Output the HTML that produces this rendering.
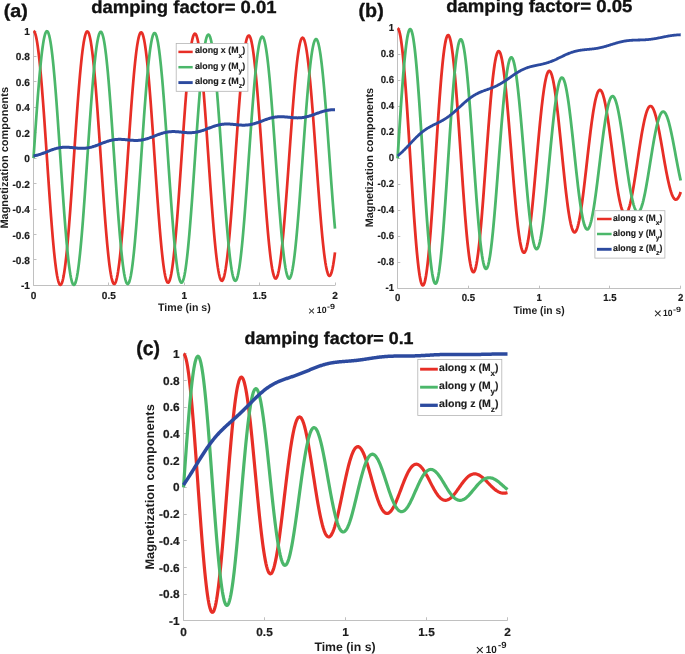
<!DOCTYPE html>
<html lang="en">
<head>
<meta charset="utf-8">
<title>Magnetization components vs time for different damping factors</title>
<style>
html,body{margin:0;padding:0;background:#fff;}
body{width:685px;height:654px;overflow:hidden;}
svg{display:block;font-family:'Liberation Sans', sans-serif;text-rendering:geometricPrecision;}
</style>
</head>
<body>
<svg width="685" height="654" viewBox="0 0 685 654">
<rect width="685" height="654" fill="#fff"/>
<g id="plot-a">
<path d="M33.5 31V285.5H335" fill="none" stroke="#c0c0c0" stroke-width="1"/>
<path d="M33.5 285.5v-3.02 M108.5 285.5v-3.02 M184.5 285.5v-3.02 M259.5 285.5v-3.02 M335.5 285.5v-3.02 M33.5 31.5h3.02 M33.5 56.5h3.02 M33.5 81.5h3.02 M33.5 107.5h3.02 M33.5 132.5h3.02 M33.5 158.5h3.02 M33.5 183.5h3.02 M33.5 209.5h3.02 M33.5 234.5h3.02 M33.5 259.5h3.02 M33.5 285.5h3.02" fill="none" stroke="#c0c0c0" stroke-width="1"/>
<path d="M33.5 31.02 L34.1 31.34 L34.71 32.29 L35.31 33.86 L35.92 36.05 L36.52 38.85 L37.13 42.24 L37.73 46.21 L38.33 50.74 L38.94 55.79 L39.54 61.36 L40.15 67.41 L40.75 73.91 L41.35 80.82 L41.96 88.12 L42.56 95.77 L43.17 103.73 L43.77 111.95 L44.38 120.41 L44.98 129.05 L45.58 137.84 L46.19 146.73 L46.79 155.67 L47.4 164.63 L48 173.55 L48.61 182.39 L49.21 191.11 L49.81 199.67 L50.42 208.02 L51.02 216.12 L51.63 223.93 L52.23 231.42 L52.83 238.53 L53.44 245.25 L54.04 251.53 L54.65 257.35 L55.25 262.68 L55.86 267.48 L56.46 271.74 L57.06 275.43 L57.67 278.54 L58.27 281.05 L58.88 282.95 L59.48 284.22 L60.09 284.87 L60.69 284.89 L61.29 284.28 L61.9 283.03 L62.5 281.17 L63.11 278.7 L63.71 275.62 L64.31 271.97 L64.92 267.74 L65.52 262.97 L66.13 257.68 L66.73 251.89 L67.34 245.64 L67.94 238.96 L68.54 231.87 L69.15 224.41 L69.75 216.63 L70.36 208.55 L70.96 200.23 L71.57 191.69 L72.17 182.99 L72.77 174.17 L73.38 165.26 L73.98 156.33 L74.59 147.4 L75.19 138.52 L75.79 129.74 L76.4 121.11 L77 112.66 L77.61 104.43 L78.21 96.48 L78.82 88.83 L79.42 81.52 L80.02 74.6 L80.63 68.09 L81.23 62.03 L81.84 56.45 L82.44 51.38 L83.05 46.83 L83.65 42.84 L84.25 39.42 L84.86 36.59 L85.46 34.37 L86.07 32.76 L86.67 31.77 L87.27 31.42 L87.88 31.69 L88.48 32.59 L89.09 34.11 L89.69 36.25 L90.3 38.99 L90.9 42.33 L91.5 46.24 L92.11 50.7 L92.71 55.7 L93.32 61.21 L93.92 67.19 L94.53 73.63 L95.13 80.49 L95.73 87.72 L96.34 95.31 L96.94 103.21 L97.55 111.38 L98.15 119.78 L98.75 128.37 L99.36 137.1 L99.96 145.94 L100.57 154.83 L101.17 163.74 L101.78 172.62 L102.38 181.43 L102.98 190.11 L103.59 198.64 L104.19 206.96 L104.8 215.04 L105.4 222.83 L106.01 230.29 L106.61 237.4 L107.21 244.11 L107.82 250.39 L108.42 256.21 L109.03 261.54 L109.63 266.35 L110.23 270.62 L110.84 274.33 L111.44 277.47 L112.05 280 L112.65 281.93 L113.26 283.25 L113.86 283.94 L114.46 284 L115.07 283.43 L115.67 282.25 L116.28 280.44 L116.88 278.02 L117.48 275.01 L118.09 271.42 L118.69 267.26 L119.3 262.56 L119.9 257.34 L120.51 251.62 L121.11 245.44 L121.71 238.83 L122.32 231.82 L122.92 224.44 L123.53 216.73 L124.13 208.73 L124.74 200.47 L125.34 192.01 L125.94 183.38 L126.55 174.63 L127.15 165.79 L127.76 156.92 L128.36 148.05 L128.96 139.23 L129.57 130.51 L130.17 121.92 L130.78 113.52 L131.38 105.34 L131.99 97.42 L132.59 89.8 L133.19 82.53 L133.8 75.63 L134.4 69.14 L135.01 63.09 L135.61 57.52 L136.22 52.45 L136.82 47.9 L137.42 43.9 L138.03 40.46 L138.63 37.62 L139.24 35.37 L139.84 33.73 L140.44 32.7 L141.05 32.3 L141.65 32.53 L142.26 33.38 L142.86 34.84 L143.47 36.92 L144.07 39.6 L144.67 42.87 L145.28 46.7 L145.88 51.09 L146.49 56.01 L147.09 61.44 L147.7 67.34 L148.3 73.69 L148.9 80.46 L149.51 87.61 L150.11 95.11 L150.72 102.92 L151.32 111 L151.92 119.31 L152.53 127.81 L153.13 136.46 L153.74 145.21 L154.34 154.02 L154.95 162.85 L155.55 171.65 L156.15 180.38 L156.76 189 L157.36 197.46 L157.97 205.72 L158.57 213.74 L159.18 221.48 L159.78 228.9 L160.38 235.97 L160.99 242.64 L161.59 248.89 L162.2 254.69 L162.8 260.01 L163.4 264.81 L164.01 269.08 L164.61 272.8 L165.22 275.94 L165.82 278.5 L166.43 280.45 L167.03 281.79 L167.63 282.52 L168.24 282.63 L168.84 282.11 L169.45 280.98 L170.05 279.24 L170.66 276.89 L171.26 273.95 L171.86 270.43 L172.47 266.35 L173.07 261.74 L173.68 256.61 L174.28 250.99 L174.88 244.91 L175.49 238.39 L176.09 231.48 L176.7 224.2 L177.3 216.59 L177.91 208.7 L178.51 200.55 L179.11 192.19 L179.72 183.66 L180.32 175.01 L180.93 166.27 L181.53 157.5 L182.14 148.73 L182.74 140 L183.34 131.37 L183.95 122.87 L184.55 114.54 L185.16 106.43 L185.76 98.58 L186.36 91.03 L186.97 83.81 L187.57 76.96 L188.18 70.52 L188.78 64.51 L189.39 58.96 L189.99 53.91 L190.59 49.38 L191.2 45.38 L191.8 41.95 L192.41 39.09 L193.01 36.83 L193.62 35.16 L194.22 34.11 L194.82 33.67 L195.43 33.85 L196.03 34.64 L196.64 36.05 L197.24 38.06 L197.84 40.66 L198.45 43.85 L199.05 47.6 L199.66 51.9 L200.26 56.72 L200.87 62.04 L201.47 67.84 L202.07 74.08 L202.68 80.74 L203.28 87.77 L203.89 95.15 L204.49 102.85 L205.1 110.81 L205.7 119 L206.3 127.38 L206.91 135.91 L207.51 144.54 L208.12 153.24 L208.72 161.96 L209.32 170.65 L209.93 179.28 L210.53 187.79 L211.14 196.15 L211.74 204.32 L212.35 212.26 L212.95 219.92 L213.55 227.26 L214.16 234.26 L214.76 240.88 L215.37 247.08 L215.97 252.83 L216.58 258.11 L217.18 262.89 L217.78 267.14 L218.39 270.84 L218.99 273.99 L219.6 276.55 L220.2 278.52 L220.8 279.89 L221.41 280.65 L222.01 280.8 L222.62 280.34 L223.22 279.26 L223.83 277.58 L224.43 275.31 L225.03 272.45 L225.64 269.03 L226.24 265.05 L226.85 260.53 L227.45 255.51 L228.06 250 L228.66 244.04 L229.26 237.65 L229.87 230.86 L230.47 223.71 L231.08 216.23 L231.68 208.47 L232.28 200.46 L232.89 192.23 L233.49 183.84 L234.1 175.32 L234.7 166.71 L235.31 158.07 L235.91 149.42 L236.51 140.82 L237.12 132.31 L237.72 123.92 L238.33 115.7 L238.93 107.7 L239.54 99.95 L240.14 92.49 L240.74 85.35 L241.35 78.58 L241.95 72.2 L242.56 66.25 L243.16 60.75 L243.76 55.74 L244.37 51.24 L244.97 47.27 L245.58 43.85 L246.18 40.99 L246.79 38.72 L247.39 37.04 L247.99 35.96 L248.6 35.48 L249.2 35.61 L249.81 36.35 L250.41 37.69 L251.02 39.63 L251.62 42.15 L252.22 45.24 L252.83 48.9 L253.43 53.09 L254.04 57.8 L254.64 63 L255.24 68.67 L255.85 74.79 L256.45 81.31 L257.06 88.2 L257.66 95.44 L258.27 102.99 L258.87 110.8 L259.47 118.85 L260.08 127.08 L260.68 135.46 L261.29 143.95 L261.89 152.5 L262.49 161.07 L263.1 169.63 L263.7 178.12 L264.31 186.5 L264.91 194.73 L265.52 202.78 L266.12 210.6 L266.72 218.15 L267.33 225.4 L267.93 232.31 L268.54 238.84 L269.14 244.97 L269.75 250.66 L270.35 255.88 L270.95 260.61 L271.56 264.83 L272.16 268.51 L272.77 271.64 L273.37 274.2 L273.97 276.18 L274.58 277.57 L275.18 278.36 L275.79 278.55 L276.39 278.13 L277 277.12 L277.6 275.52 L278.2 273.32 L278.81 270.56 L279.41 267.23 L280.02 263.36 L280.62 258.96 L281.23 254.06 L281.83 248.69 L282.43 242.86 L283.04 236.61 L283.64 229.97 L284.25 222.98 L284.85 215.66 L285.45 208.05 L286.06 200.2 L286.66 192.14 L287.27 183.91 L287.87 175.55 L288.48 167.1 L289.08 158.62 L289.68 150.13 L290.29 141.68 L290.89 133.31 L291.5 125.07 L292.1 116.99 L292.71 109.12 L293.31 101.49 L293.91 94.15 L294.52 87.12 L295.12 80.45 L295.73 74.16 L296.33 68.29 L296.93 62.86 L297.54 57.91 L298.14 53.46 L298.75 49.52 L299.35 46.12 L299.96 43.28 L300.56 41.01 L301.16 39.32 L301.77 38.22 L302.37 37.71 L302.98 37.79 L303.58 38.47 L304.19 39.75 L304.79 41.6 L305.39 44.04 L306 47.03 L306.6 50.57 L307.21 54.65 L307.81 59.23 L308.41 64.3 L309.02 69.83 L309.62 75.79 L310.23 82.15 L310.83 88.89 L311.44 95.96 L312.04 103.34 L312.64 110.98 L313.25 118.85 L313.85 126.91 L314.46 135.12 L315.06 143.43 L315.67 151.81 L316.27 160.21 L316.87 168.59 L317.48 176.92 L318.08 185.14 L318.69 193.22 L319.29 201.12 L319.89 208.8 L320.5 216.22 L321.1 223.34 L321.71 230.14 L322.31 236.56 L322.92 242.59 L323.52 248.2 L324.12 253.35 L324.73 258.02 L325.33 262.18 L325.94 265.83 L326.54 268.93 L327.15 271.48 L327.75 273.46 L328.35 274.86 L328.96 275.68 L329.56 275.91 L330.17 275.55 L330.77 274.6 L331.37 273.07 L331.98 270.96 L332.58 268.3 L333.19 265.08 L333.79 261.33 L334.4 257.06 L335 252.3" fill="none" stroke="#e72e26" stroke-width="2.7" stroke-linejoin="round" stroke-linecap="butt"/>
<path d="M33.5 158.2 L34.1 149.24 L34.71 140.33 L35.31 131.5 L35.92 122.81 L36.52 114.3 L37.13 106 L37.73 97.97 L38.33 90.23 L38.94 82.83 L39.54 75.81 L40.15 69.2 L40.75 63.03 L41.35 57.33 L41.96 52.14 L42.56 47.48 L43.17 43.36 L43.77 39.82 L44.38 36.86 L44.98 34.51 L45.58 32.78 L46.19 31.67 L46.79 31.19 L47.4 31.34 L48 32.12 L48.61 33.52 L49.21 35.55 L49.81 38.19 L50.42 41.42 L51.02 45.24 L51.63 49.61 L52.23 54.53 L52.83 59.96 L53.44 65.88 L54.04 72.26 L54.65 79.06 L55.25 86.26 L55.86 93.82 L56.46 101.69 L57.06 109.84 L57.67 118.24 L58.27 126.83 L58.88 135.58 L59.48 144.44 L60.09 153.37 L60.69 162.32 L61.29 171.25 L61.9 180.11 L62.5 188.86 L63.11 197.46 L63.71 205.87 L64.31 214.03 L64.92 221.92 L65.52 229.49 L66.13 236.7 L66.73 243.53 L67.34 249.93 L67.94 255.87 L68.54 261.32 L69.15 266.27 L69.75 270.67 L70.36 274.51 L70.96 277.78 L71.57 280.45 L72.17 282.51 L72.77 283.95 L73.38 284.77 L73.98 284.96 L74.59 284.52 L75.19 283.45 L75.79 281.75 L76.4 279.45 L77 276.54 L77.61 273.04 L78.21 268.97 L78.82 264.35 L79.42 259.2 L80.02 253.56 L80.63 247.43 L81.23 240.87 L81.84 233.89 L82.44 226.54 L83.05 218.85 L83.65 210.86 L84.25 202.61 L84.86 194.14 L85.46 185.49 L86.07 176.71 L86.67 167.84 L87.27 158.92 L87.88 149.99 L88.48 141.11 L89.09 132.32 L89.69 123.65 L90.3 115.16 L90.9 106.89 L91.5 98.87 L92.11 91.14 L92.71 83.75 L93.32 76.73 L93.92 70.12 L94.53 63.95 L95.13 58.25 L95.73 53.04 L96.34 48.36 L96.94 44.23 L97.55 40.66 L98.15 37.68 L98.75 35.3 L99.36 33.52 L99.96 32.37 L100.57 31.85 L101.17 31.95 L101.78 32.69 L102.38 34.04 L102.98 36.02 L103.59 38.6 L104.19 41.77 L104.8 45.53 L105.4 49.84 L106.01 54.69 L106.61 60.06 L107.21 65.91 L107.82 72.22 L108.42 78.96 L109.03 86.09 L109.63 93.57 L110.23 101.38 L110.84 109.47 L111.44 117.8 L112.05 126.33 L112.65 135.01 L113.26 143.81 L113.86 152.68 L114.46 161.58 L115.07 170.45 L115.67 179.27 L116.28 187.98 L116.88 196.54 L117.48 204.9 L118.09 213.03 L118.69 220.89 L119.3 228.44 L119.9 235.63 L120.51 242.44 L121.11 248.83 L121.71 254.76 L122.32 260.22 L122.92 265.16 L123.53 269.58 L124.13 273.43 L124.74 276.72 L125.34 279.41 L125.94 281.5 L126.55 282.98 L127.15 283.84 L127.76 284.07 L128.36 283.68 L128.96 282.66 L129.57 281.02 L130.17 278.77 L130.78 275.93 L131.38 272.49 L131.99 268.5 L132.59 263.95 L133.19 258.88 L133.8 253.31 L134.4 247.26 L135.01 240.78 L135.61 233.88 L136.22 226.62 L136.82 219.01 L137.42 211.1 L138.03 202.93 L138.63 194.54 L139.24 185.97 L139.84 177.27 L140.44 168.47 L141.05 159.62 L141.65 150.77 L142.26 141.96 L142.86 133.22 L143.47 124.62 L144.07 116.18 L144.67 107.96 L145.28 99.99 L145.88 92.31 L146.49 84.95 L147.09 77.97 L147.7 71.38 L148.3 65.23 L148.9 59.54 L149.51 54.35 L150.11 49.67 L150.72 45.53 L151.32 41.95 L151.92 38.95 L152.53 36.55 L153.13 34.75 L153.74 33.57 L154.34 33 L154.95 33.06 L155.55 33.74 L156.15 35.04 L156.76 36.96 L157.36 39.47 L157.97 42.57 L158.57 46.25 L159.18 50.49 L159.78 55.26 L160.38 60.53 L160.99 66.3 L161.59 72.52 L162.2 79.16 L162.8 86.2 L163.4 93.59 L164.01 101.3 L164.61 109.29 L165.22 117.52 L165.82 125.96 L166.43 134.55 L167.03 143.25 L167.63 152.03 L168.24 160.84 L168.84 169.63 L169.45 178.36 L170.05 186.99 L170.66 195.47 L171.26 203.77 L171.86 211.84 L172.47 219.64 L173.07 227.13 L173.68 234.27 L174.28 241.04 L174.88 247.39 L175.49 253.3 L176.09 258.73 L176.7 263.66 L177.3 268.06 L177.91 271.92 L178.51 275.21 L179.11 277.92 L179.72 280.03 L180.32 281.54 L180.93 282.43 L181.53 282.7 L182.14 282.36 L182.74 281.39 L183.34 279.82 L183.95 277.64 L184.55 274.86 L185.16 271.51 L185.76 267.6 L186.36 263.14 L186.97 258.16 L187.57 252.69 L188.18 246.75 L188.78 240.37 L189.39 233.58 L189.99 226.42 L190.59 218.92 L191.2 211.12 L191.8 203.07 L192.41 194.79 L193.01 186.33 L193.62 177.74 L194.22 169.05 L194.82 160.31 L195.43 151.56 L196.03 142.84 L196.64 134.21 L197.24 125.7 L197.84 117.35 L198.45 109.21 L199.05 101.32 L199.66 93.71 L200.26 86.42 L200.87 79.49 L201.47 72.96 L202.07 66.85 L202.68 61.2 L203.28 56.03 L203.89 51.37 L204.49 47.25 L205.1 43.67 L205.7 40.67 L206.3 38.26 L206.91 36.44 L207.51 35.23 L208.12 34.62 L208.72 34.64 L209.32 35.27 L209.93 36.51 L210.53 38.35 L211.14 40.79 L211.74 43.81 L212.35 47.4 L212.95 51.54 L213.55 56.21 L214.16 61.39 L214.76 67.04 L215.37 73.15 L215.97 79.67 L216.58 86.59 L217.18 93.86 L217.78 101.44 L218.39 109.31 L218.99 117.41 L219.6 125.72 L220.2 134.18 L220.8 142.76 L221.41 151.42 L222.01 160.11 L222.62 168.78 L223.22 177.4 L223.83 185.91 L224.43 194.29 L225.03 202.49 L225.64 210.46 L226.24 218.17 L226.85 225.58 L227.45 232.65 L228.06 239.35 L228.66 245.64 L229.26 251.49 L229.87 256.88 L230.47 261.78 L231.08 266.16 L231.68 270 L232.28 273.28 L232.89 276 L233.49 278.12 L234.1 279.65 L234.7 280.57 L235.31 280.88 L235.91 280.58 L236.51 279.68 L237.12 278.17 L237.72 276.06 L238.33 273.37 L238.93 270.11 L239.54 266.29 L240.14 261.94 L240.74 257.07 L241.35 251.72 L241.95 245.9 L242.56 239.64 L243.16 232.98 L243.76 225.96 L244.37 218.6 L244.97 210.94 L245.58 203.02 L246.18 194.89 L246.79 186.57 L247.39 178.12 L247.99 169.57 L248.6 160.96 L249.2 152.35 L249.81 143.77 L250.41 135.26 L251.02 126.88 L251.62 118.65 L252.22 110.62 L252.83 102.83 L253.43 95.32 L254.04 88.12 L254.64 81.28 L255.24 74.82 L255.85 68.78 L256.45 63.18 L257.06 58.06 L257.66 53.45 L258.27 49.35 L258.87 45.79 L259.47 42.8 L260.08 40.38 L260.68 38.55 L261.29 37.31 L261.89 36.68 L262.49 36.65 L263.1 37.23 L263.7 38.4 L264.31 40.17 L264.91 42.53 L265.52 45.46 L266.12 48.95 L266.72 52.98 L267.33 57.54 L267.93 62.59 L268.54 68.12 L269.14 74.09 L269.75 80.48 L270.35 87.25 L270.95 94.37 L271.56 101.8 L272.16 109.52 L272.77 117.47 L273.37 125.62 L273.97 133.93 L274.58 142.35 L275.18 150.85 L275.79 159.39 L276.39 167.91 L277 176.38 L277.6 184.76 L278.2 193.01 L278.81 201.07 L279.41 208.92 L280.02 216.51 L280.62 223.81 L281.23 230.79 L281.83 237.39 L282.43 243.6 L283.04 249.39 L283.64 254.71 L284.25 259.56 L284.85 263.89 L285.45 267.71 L286.06 270.97 L286.66 273.67 L287.27 275.8 L287.87 277.34 L288.48 278.29 L289.08 278.64 L289.68 278.39 L290.29 277.55 L290.89 276.11 L291.5 274.08 L292.1 271.48 L292.71 268.32 L293.31 264.61 L293.91 260.38 L294.52 255.64 L295.12 250.41 L295.73 244.73 L296.33 238.62 L296.93 232.12 L297.54 225.25 L298.14 218.05 L298.75 210.56 L299.35 202.81 L299.96 194.84 L300.56 186.69 L301.16 178.41 L301.77 170.03 L302.37 161.59 L302.98 153.14 L303.58 144.72 L304.19 136.37 L304.79 128.13 L305.39 120.05 L306 112.16 L306.6 104.51 L307.21 97.12 L307.81 90.04 L308.41 83.3 L309.02 76.94 L309.62 70.99 L310.23 65.47 L310.83 60.42 L311.44 55.85 L312.04 51.8 L312.64 48.28 L313.25 45.3 L313.85 42.89 L314.46 41.05 L315.06 39.8 L315.67 39.14 L316.27 39.06 L316.87 39.58 L317.48 40.69 L318.08 42.39 L318.69 44.66 L319.29 47.49 L319.89 50.87 L320.5 54.78 L321.1 59.21 L321.71 64.12 L322.31 69.5 L322.92 75.32 L323.52 81.55 L324.12 88.16 L324.73 95.11 L325.33 102.37 L325.94 109.9 L326.54 117.68 L327.15 125.65 L327.75 133.77 L328.35 142.02 L328.96 150.34 L329.56 158.69 L330.17 167.04 L330.77 175.34 L331.37 183.55 L331.98 191.63 L332.58 199.54 L333.19 207.24 L333.79 214.7 L334.4 221.86 L335 228.71" fill="none" stroke="#4bb76a" stroke-width="2.7" stroke-linejoin="round" stroke-linecap="butt"/>
<path d="M33.5 155.91 L34.1 155.82 L34.71 155.71 L35.31 155.59 L35.92 155.47 L36.52 155.33 L37.13 155.18 L37.73 155.03 L38.33 154.86 L38.94 154.68 L39.54 154.5 L40.15 154.31 L40.75 154.11 L41.35 153.9 L41.96 153.69 L42.56 153.47 L43.17 153.24 L43.77 153.01 L44.38 152.78 L44.98 152.54 L45.58 152.3 L46.19 152.06 L46.79 151.82 L47.4 151.58 L48 151.34 L48.61 151.1 L49.21 150.86 L49.81 150.63 L50.42 150.39 L51.02 150.17 L51.63 149.94 L52.23 149.73 L52.83 149.52 L53.44 149.31 L54.04 149.12 L54.65 148.93 L55.25 148.75 L55.86 148.58 L56.46 148.42 L57.06 148.26 L57.67 148.12 L58.27 147.99 L58.88 147.87 L59.48 147.76 L60.09 147.66 L60.69 147.57 L61.29 147.49 L61.9 147.42 L62.5 147.36 L63.11 147.32 L63.71 147.28 L64.31 147.25 L64.92 147.23 L65.52 147.23 L66.13 147.23 L66.73 147.24 L67.34 147.25 L67.94 147.28 L68.54 147.31 L69.15 147.35 L69.75 147.39 L70.36 147.44 L70.96 147.49 L71.57 147.55 L72.17 147.6 L72.77 147.66 L73.38 147.73 L73.98 147.79 L74.59 147.85 L75.19 147.91 L75.79 147.97 L76.4 148.03 L77 148.09 L77.61 148.14 L78.21 148.18 L78.82 148.22 L79.42 148.26 L80.02 148.29 L80.63 148.31 L81.23 148.32 L81.84 148.33 L82.44 148.33 L83.05 148.32 L83.65 148.29 L84.25 148.26 L84.86 148.22 L85.46 148.17 L86.07 148.11 L86.67 148.04 L87.27 147.96 L87.88 147.86 L88.48 147.76 L89.09 147.64 L89.69 147.52 L90.3 147.38 L90.9 147.24 L91.5 147.08 L92.11 146.92 L92.71 146.74 L93.32 146.56 L93.92 146.37 L94.53 146.17 L95.13 145.97 L95.73 145.75 L96.34 145.54 L96.94 145.31 L97.55 145.09 L98.15 144.86 L98.75 144.62 L99.36 144.38 L99.96 144.14 L100.57 143.9 L101.17 143.66 L101.78 143.43 L102.38 143.19 L102.98 142.95 L103.59 142.72 L104.19 142.49 L104.8 142.26 L105.4 142.04 L106.01 141.83 L106.61 141.62 L107.21 141.41 L107.82 141.22 L108.42 141.03 L109.03 140.85 L109.63 140.68 L110.23 140.52 L110.84 140.37 L111.44 140.23 L112.05 140.1 L112.65 139.97 L113.26 139.86 L113.86 139.76 L114.46 139.68 L115.07 139.6 L115.67 139.53 L116.28 139.47 L116.88 139.42 L117.48 139.39 L118.09 139.36 L118.69 139.34 L119.3 139.33 L119.9 139.33 L120.51 139.34 L121.11 139.36 L121.71 139.39 L122.32 139.42 L122.92 139.45 L123.53 139.5 L124.13 139.55 L124.74 139.6 L125.34 139.65 L125.94 139.71 L126.55 139.77 L127.15 139.84 L127.76 139.9 L128.36 139.96 L128.96 140.02 L129.57 140.08 L130.17 140.14 L130.78 140.2 L131.38 140.25 L131.99 140.3 L132.59 140.34 L133.19 140.37 L133.8 140.4 L134.4 140.43 L135.01 140.44 L135.61 140.45 L136.22 140.45 L136.82 140.44 L137.42 140.42 L138.03 140.39 L138.63 140.35 L139.24 140.3 L139.84 140.24 L140.44 140.17 L141.05 140.09 L141.65 140 L142.26 139.9 L142.86 139.78 L143.47 139.66 L144.07 139.53 L144.67 139.38 L145.28 139.23 L145.88 139.07 L146.49 138.9 L147.09 138.72 L147.7 138.53 L148.3 138.34 L148.9 138.13 L149.51 137.93 L150.11 137.71 L150.72 137.49 L151.32 137.27 L151.92 137.04 L152.53 136.81 L153.13 136.57 L153.74 136.34 L154.34 136.1 L154.95 135.86 L155.55 135.63 L156.15 135.39 L156.76 135.16 L157.36 134.93 L157.97 134.7 L158.57 134.48 L159.18 134.26 L159.78 134.04 L160.38 133.84 L160.99 133.64 L161.59 133.44 L162.2 133.26 L162.8 133.08 L163.4 132.91 L164.01 132.75 L164.61 132.6 L165.22 132.46 L165.82 132.33 L166.43 132.21 L167.03 132.11 L167.63 132.01 L168.24 131.92 L168.84 131.84 L169.45 131.77 L170.05 131.72 L170.66 131.67 L171.26 131.63 L171.86 131.61 L172.47 131.59 L173.07 131.58 L173.68 131.58 L174.28 131.59 L174.88 131.61 L175.49 131.63 L176.09 131.67 L176.7 131.7 L177.3 131.75 L177.91 131.79 L178.51 131.85 L179.11 131.9 L179.72 131.96 L180.32 132.02 L180.93 132.08 L181.53 132.15 L182.14 132.21 L182.74 132.27 L183.34 132.33 L183.95 132.39 L184.55 132.45 L185.16 132.5 L185.76 132.55 L186.36 132.59 L186.97 132.63 L187.57 132.66 L188.18 132.68 L188.78 132.7 L189.39 132.71 L189.99 132.71 L190.59 132.7 L191.2 132.68 L191.8 132.65 L192.41 132.62 L193.01 132.57 L193.62 132.51 L194.22 132.45 L194.82 132.37 L195.43 132.28 L196.03 132.18 L196.64 132.07 L197.24 131.95 L197.84 131.82 L198.45 131.68 L199.05 131.53 L199.66 131.38 L200.26 131.21 L200.87 131.03 L201.47 130.85 L202.07 130.66 L202.68 130.46 L203.28 130.26 L203.89 130.04 L204.49 129.83 L205.1 129.61 L205.7 129.38 L206.3 129.16 L206.91 128.93 L207.51 128.7 L208.12 128.46 L208.72 128.23 L209.32 128 L209.93 127.77 L210.53 127.54 L211.14 127.31 L211.74 127.09 L212.35 126.87 L212.95 126.65 L213.55 126.44 L214.16 126.24 L214.76 126.04 L215.37 125.85 L215.97 125.67 L216.58 125.5 L217.18 125.33 L217.78 125.17 L218.39 125.03 L218.99 124.89 L219.6 124.76 L220.2 124.64 L220.8 124.54 L221.41 124.44 L222.01 124.35 L222.62 124.28 L223.22 124.21 L223.83 124.15 L224.43 124.11 L225.03 124.07 L225.64 124.05 L226.24 124.03 L226.85 124.02 L227.45 124.03 L228.06 124.04 L228.66 124.05 L229.26 124.08 L229.87 124.11 L230.47 124.15 L231.08 124.19 L231.68 124.24 L232.28 124.29 L232.89 124.35 L233.49 124.41 L234.1 124.47 L234.7 124.53 L235.31 124.59 L235.91 124.66 L236.51 124.72 L237.12 124.78 L237.72 124.84 L238.33 124.9 L238.93 124.95 L239.54 125 L240.14 125.04 L240.74 125.08 L241.35 125.11 L241.95 125.14 L242.56 125.16 L243.16 125.17 L243.76 125.17 L244.37 125.16 L244.97 125.15 L245.58 125.12 L246.18 125.09 L246.79 125.04 L247.39 124.99 L247.99 124.92 L248.6 124.85 L249.2 124.76 L249.81 124.67 L250.41 124.56 L251.02 124.45 L251.62 124.32 L252.22 124.19 L252.83 124.04 L253.43 123.89 L254.04 123.73 L254.64 123.56 L255.24 123.38 L255.85 123.19 L256.45 123 L257.06 122.8 L257.66 122.59 L258.27 122.38 L258.87 122.17 L259.47 121.95 L260.08 121.73 L260.68 121.5 L261.29 121.27 L261.89 121.05 L262.49 120.82 L263.1 120.59 L263.7 120.37 L264.31 120.14 L264.91 119.92 L265.52 119.7 L266.12 119.49 L266.72 119.28 L267.33 119.07 L267.93 118.87 L268.54 118.68 L269.14 118.49 L269.75 118.31 L270.35 118.14 L270.95 117.98 L271.56 117.83 L272.16 117.69 L272.77 117.55 L273.37 117.43 L273.97 117.31 L274.58 117.21 L275.18 117.11 L275.79 117.03 L276.39 116.95 L277 116.89 L277.6 116.83 L278.2 116.79 L278.81 116.76 L279.41 116.73 L280.02 116.72 L280.62 116.71 L281.23 116.71 L281.83 116.72 L282.43 116.74 L283.04 116.77 L283.64 116.8 L284.25 116.84 L284.85 116.88 L285.45 116.93 L286.06 116.98 L286.66 117.04 L287.27 117.1 L287.87 117.16 L288.48 117.22 L289.08 117.29 L289.68 117.35 L290.29 117.41 L290.89 117.48 L291.5 117.54 L292.1 117.59 L292.71 117.65 L293.31 117.7 L293.91 117.74 L294.52 117.78 L295.12 117.81 L295.73 117.84 L296.33 117.86 L296.93 117.87 L297.54 117.88 L298.14 117.87 L298.75 117.86 L299.35 117.84 L299.96 117.81 L300.56 117.76 L301.16 117.71 L301.77 117.65 L302.37 117.58 L302.98 117.5 L303.58 117.41 L304.19 117.31 L304.79 117.2 L305.39 117.08 L306 116.95 L306.6 116.81 L307.21 116.66 L307.81 116.5 L308.41 116.33 L309.02 116.16 L309.62 115.98 L310.23 115.79 L310.83 115.6 L311.44 115.4 L312.04 115.2 L312.64 114.99 L313.25 114.77 L313.85 114.56 L314.46 114.34 L315.06 114.12 L315.67 113.9 L316.27 113.68 L316.87 113.46 L317.48 113.24 L318.08 113.02 L318.69 112.8 L319.29 112.59 L319.89 112.38 L320.5 112.17 L321.1 111.97 L321.71 111.78 L322.31 111.59 L322.92 111.41 L323.52 111.24 L324.12 111.07 L324.73 110.92 L325.33 110.77 L325.94 110.63 L326.54 110.5 L327.15 110.37 L327.75 110.26 L328.35 110.16 L328.96 110.07 L329.56 109.99 L330.17 109.92 L330.77 109.85 L331.37 109.8 L331.98 109.76 L332.58 109.73 L333.19 109.7 L333.79 109.69 L334.4 109.69 L335 109.69" fill="none" stroke="#2c4a9f" stroke-width="3" stroke-linejoin="round" stroke-linecap="butt"/>
<g font-size="10.1" font-weight="bold" fill="#1c1c1c" stroke="#1c1c1c" stroke-width="0.2">
<text transform="translate(29.9 35) scale(1 1)" text-anchor="end">1</text>
<text transform="translate(29.9 60.44) scale(1 1)" text-anchor="end">0.8</text>
<text transform="translate(29.9 85.88) scale(1 1)" text-anchor="end">0.6</text>
<text transform="translate(29.9 111.32) scale(1 1)" text-anchor="end">0.4</text>
<text transform="translate(29.9 136.76) scale(1 1)" text-anchor="end">0.2</text>
<text transform="translate(29.9 162.2) scale(1 1)" text-anchor="end">0</text>
<text transform="translate(29.9 187.64) scale(1 1)" text-anchor="end">-0.2</text>
<text transform="translate(29.9 213.08) scale(1 1)" text-anchor="end">-0.4</text>
<text transform="translate(29.9 238.52) scale(1 1)" text-anchor="end">-0.6</text>
<text transform="translate(29.9 263.96) scale(1 1)" text-anchor="end">-0.8</text>
<text transform="translate(29.9 289.4) scale(1 1)" text-anchor="end">-1</text>
<text transform="translate(33.5 298.5) scale(1 1)" text-anchor="middle">0</text>
<text transform="translate(108.88 298.5) scale(1 1)" text-anchor="middle">0.5</text>
<text transform="translate(184.25 298.5) scale(1 1)" text-anchor="middle">1</text>
<text transform="translate(259.62 298.5) scale(1 1)" text-anchor="middle">1.5</text>
<text transform="translate(335 298.5) scale(1 1)" text-anchor="middle">2</text>
</g>
<text x="308.06" y="315.02" font-size="12.05" fill="#1c1c1c">×</text>
<text x="316.8" y="313.1" font-size="9" textLength="9.72" lengthAdjust="spacingAndGlyphs" font-weight="bold" fill="#1c1c1c">10</text>
<text x="326.9" y="308.7" font-size="7.4" textLength="7.99" lengthAdjust="spacingAndGlyphs" font-weight="bold" fill="#1c1c1c">-9</text>
<text x="158.1" y="310.7" font-size="10.8" textLength="52.57" lengthAdjust="spacingAndGlyphs" font-weight="bold" fill="#1c1c1c">Time (in s)</text>
<text transform="translate(8 228.6) rotate(-90)" x="0" y="0" font-size="10.9" textLength="141.59" lengthAdjust="spacingAndGlyphs" font-weight="bold" fill="#1c1c1c">Magnetization components</text>
<text x="91.15" y="12.8" font-size="17.6" textLength="185.42" lengthAdjust="spacingAndGlyphs" font-weight="bold" fill="#111" stroke="#111" stroke-width="0.35" stroke-linejoin="round">damping factor= 0.01</text>
<text x="3.75" y="16.9" font-size="18.4" textLength="24.14" lengthAdjust="spacingAndGlyphs" font-weight="bold" fill="#111" stroke="#111" stroke-width="0.35" stroke-linejoin="round">(a)</text>
<rect x="176.2" y="43.4" width="71.7" height="47.9" fill="#fff" stroke="#b4b4b4" stroke-width="0.8"/>
<path d="M178.4 51.9H192.7" stroke="#e72e26" stroke-width="2.5" fill="none"/>
<text transform="translate(194.9 53.4) scale(0.9802 1)" font-size="9" font-weight="bold" fill="#1c1c1c" stroke="#1c1c1c" stroke-width="0.15">along x (M<tspan font-size="7.02" dy="4.32">x</tspan><tspan dy="-4.32">)</tspan></text>
<path d="M178.4 67.2H192.7" stroke="#4bb76a" stroke-width="2.5" fill="none"/>
<text transform="translate(194.9 68.7) scale(0.9802 1)" font-size="9" font-weight="bold" fill="#1c1c1c" stroke="#1c1c1c" stroke-width="0.15">along y (M<tspan font-size="7.02" dy="4.32">y</tspan><tspan dy="-4.32">)</tspan></text>
<path d="M178.4 82.6H192.7" stroke="#2c4a9f" stroke-width="2.9" fill="none"/>
<text transform="translate(194.9 84.1) scale(0.9976 1)" font-size="9" font-weight="bold" fill="#1c1c1c" stroke="#1c1c1c" stroke-width="0.15">along z (M<tspan font-size="7.02" dy="4.32">z</tspan><tspan dy="-4.32">)</tspan></text>
</g>
<g id="plot-b">
<path d="M397.5 28.3V288.5H680.7" fill="none" stroke="#c0c0c0" stroke-width="1"/>
<path d="M397.5 288.5v-2.83 M468.5 288.5v-2.83 M539.5 288.5v-2.83 M609.5 288.5v-2.83 M680.5 288.5v-2.83 M397.5 28.5h2.83 M397.5 54.5h2.83 M397.5 80.5h2.83 M397.5 106.5h2.83 M397.5 132.5h2.83 M397.5 158.5h2.83 M397.5 184.5h2.83 M397.5 210.5h2.83 M397.5 236.5h2.83 M397.5 262.5h2.83 M397.5 288.5h2.83" fill="none" stroke="#c0c0c0" stroke-width="1"/>
<path d="M397.6 28.32 L398.17 28.65 L398.73 29.62 L399.3 31.24 L399.87 33.48 L400.44 36.33 L401 39.79 L401.57 43.84 L402.14 48.45 L402.71 53.61 L403.27 59.28 L403.84 65.44 L404.41 72.05 L404.98 79.09 L405.54 86.52 L406.11 94.3 L406.68 102.39 L407.24 110.75 L407.81 119.33 L408.38 128.11 L408.95 137.03 L409.51 146.04 L410.08 155.11 L410.65 164.19 L411.22 173.23 L411.78 182.18 L412.35 191.01 L412.92 199.67 L413.49 208.11 L414.05 216.29 L414.62 224.18 L415.19 231.73 L415.75 238.91 L416.32 245.68 L416.89 252.01 L417.46 257.87 L418.02 263.22 L418.59 268.05 L419.16 272.32 L419.73 276.02 L420.29 279.13 L420.86 281.64 L421.43 283.53 L422 284.79 L422.56 285.43 L423.13 285.43 L423.7 284.8 L424.26 283.54 L424.83 281.65 L425.4 279.16 L425.97 276.07 L426.53 272.4 L427.1 268.16 L427.67 263.39 L428.24 258.1 L428.8 252.31 L429.37 246.07 L429.94 239.41 L430.51 232.35 L431.07 224.93 L431.64 217.19 L432.21 209.16 L432.77 200.9 L433.34 192.44 L433.91 183.82 L434.48 175.09 L435.04 166.28 L435.61 157.46 L436.18 148.64 L436.75 139.89 L437.31 131.25 L437.88 122.75 L438.45 114.44 L439.02 106.37 L439.58 98.56 L440.15 91.06 L440.72 83.91 L441.28 77.14 L441.85 70.78 L442.42 64.86 L442.99 59.42 L443.55 54.47 L444.12 50.05 L444.69 46.17 L445.26 42.85 L445.82 40.11 L446.39 37.96 L446.96 36.4 L447.53 35.45 L448.09 35.1 L448.66 35.37 L449.23 36.23 L449.79 37.7 L450.36 39.76 L450.93 42.39 L451.5 45.59 L452.06 49.34 L452.63 53.61 L453.2 58.39 L453.77 63.64 L454.33 69.35 L454.9 75.48 L455.47 82 L456.04 88.88 L456.6 96.08 L457.17 103.56 L457.74 111.29 L458.3 119.23 L458.87 127.33 L459.44 135.56 L460.01 143.88 L460.57 152.24 L461.14 160.61 L461.71 168.93 L462.28 177.17 L462.84 185.29 L463.41 193.25 L463.98 201.01 L464.55 208.53 L465.11 215.77 L465.68 222.7 L466.25 229.29 L466.81 235.5 L467.38 241.31 L467.95 246.68 L468.52 251.59 L469.08 256.02 L469.65 259.95 L470.22 263.35 L470.79 266.23 L471.35 268.55 L471.92 270.31 L472.49 271.51 L473.06 272.13 L473.62 272.19 L474.19 271.68 L474.76 270.6 L475.32 268.96 L475.89 266.78 L476.46 264.06 L477.03 260.82 L477.59 257.08 L478.16 252.86 L478.73 248.18 L479.3 243.06 L479.86 237.54 L480.43 231.64 L481 225.39 L481.57 218.82 L482.13 211.97 L482.7 204.88 L483.27 197.57 L483.83 190.09 L484.4 182.47 L484.97 174.76 L485.54 166.99 L486.1 159.2 L486.67 151.42 L487.24 143.71 L487.81 136.08 L488.37 128.59 L488.94 121.28 L489.51 114.16 L490.08 107.29 L490.64 100.68 L491.21 94.39 L491.78 88.42 L492.34 82.82 L492.91 77.61 L493.48 72.82 L494.05 68.46 L494.61 64.55 L495.18 61.12 L495.75 58.18 L496.32 55.74 L496.88 53.81 L497.45 52.4 L498.02 51.51 L498.59 51.15 L499.15 51.32 L499.72 52 L500.29 53.21 L500.85 54.92 L501.42 57.13 L501.99 59.83 L502.56 63 L503.12 66.62 L503.69 70.67 L504.26 75.13 L504.83 79.98 L505.39 85.19 L505.96 90.73 L506.53 96.57 L507.1 102.69 L507.66 109.06 L508.23 115.63 L508.8 122.37 L509.36 129.26 L509.93 136.26 L510.5 143.33 L511.07 150.43 L511.63 157.54 L512.2 164.61 L512.77 171.61 L513.34 178.5 L513.9 185.26 L514.47 191.85 L515.04 198.23 L515.61 204.39 L516.17 210.27 L516.74 215.87 L517.31 221.15 L517.87 226.09 L518.44 230.66 L519.01 234.85 L519.58 238.63 L520.14 241.99 L520.71 244.91 L521.28 247.38 L521.85 249.39 L522.41 250.93 L522.98 252 L523.55 252.6 L524.12 252.72 L524.68 252.36 L525.25 251.53 L525.82 250.24 L526.38 248.49 L526.95 246.29 L527.52 243.66 L528.09 240.62 L528.65 237.17 L529.22 233.35 L529.79 229.16 L530.36 224.63 L530.92 219.79 L531.49 214.67 L532.06 209.28 L532.63 203.66 L533.19 197.83 L533.76 191.83 L534.33 185.68 L534.89 179.42 L535.46 173.09 L536.03 166.7 L536.6 160.29 L537.16 153.9 L537.73 147.55 L538.3 141.29 L538.87 135.13 L539.43 129.1 L540 123.25 L540.57 117.59 L541.14 112.15 L541.7 106.96 L542.27 102.05 L542.84 97.43 L543.41 93.12 L543.97 89.16 L544.54 85.55 L545.11 82.3 L545.67 79.45 L546.24 76.99 L546.81 74.93 L547.38 73.3 L547.94 72.08 L548.51 71.29 L549.08 70.92 L549.65 70.99 L550.21 71.47 L550.78 72.37 L551.35 73.69 L551.92 75.41 L552.48 77.52 L553.05 80.01 L553.62 82.87 L554.18 86.08 L554.75 89.62 L555.32 93.47 L555.89 97.61 L556.45 102.02 L557.02 106.68 L557.59 111.56 L558.16 116.64 L558.72 121.89 L559.29 127.28 L559.86 132.78 L560.43 138.38 L560.99 144.03 L561.56 149.71 L562.13 155.4 L562.69 161.06 L563.26 166.67 L563.83 172.2 L564.4 177.62 L564.96 182.9 L565.53 188.03 L566.1 192.97 L566.67 197.7 L567.23 202.2 L567.8 206.46 L568.37 210.44 L568.94 214.13 L569.5 217.52 L570.07 220.58 L570.64 223.31 L571.2 225.7 L571.77 227.73 L572.34 229.4 L572.91 230.69 L573.47 231.62 L574.04 232.16 L574.61 232.33 L575.18 232.12 L575.74 231.54 L576.31 230.59 L576.88 229.28 L577.45 227.62 L578.01 225.61 L578.58 223.28 L579.15 220.62 L579.71 217.67 L580.28 214.43 L580.85 210.92 L581.42 207.16 L581.98 203.18 L582.55 198.98 L583.12 194.6 L583.69 190.06 L584.25 185.38 L584.82 180.58 L585.39 175.69 L585.96 170.73 L586.52 165.73 L587.09 160.72 L587.66 155.71 L588.22 150.74 L588.79 145.82 L589.36 140.99 L589.93 136.26 L590.49 131.66 L591.06 127.21 L591.63 122.92 L592.2 118.83 L592.76 114.96 L593.33 111.3 L593.9 107.9 L594.47 104.75 L595.03 101.88 L595.6 99.3 L596.17 97.01 L596.73 95.03 L597.3 93.37 L597.87 92.02 L598.44 91.01 L599 90.32 L599.57 89.97 L600.14 89.94 L600.71 90.25 L601.27 90.88 L601.84 91.83 L602.41 93.1 L602.98 94.66 L603.54 96.53 L604.11 98.68 L604.68 101.1 L605.24 103.78 L605.81 106.71 L606.38 109.86 L606.95 113.23 L607.51 116.78 L608.08 120.52 L608.65 124.4 L609.22 128.42 L609.78 132.55 L610.35 136.78 L610.92 141.08 L611.49 145.42 L612.05 149.8 L612.62 154.18 L613.19 158.54 L613.75 162.86 L614.32 167.13 L614.89 171.32 L615.46 175.4 L616.02 179.37 L616.59 183.2 L617.16 186.87 L617.73 190.37 L618.29 193.68 L618.86 196.78 L619.43 199.67 L620 202.32 L620.56 204.72 L621.13 206.88 L621.7 208.77 L622.26 210.39 L622.83 211.73 L623.4 212.79 L623.97 213.56 L624.53 214.04 L625.1 214.24 L625.67 214.15 L626.24 213.77 L626.8 213.11 L627.37 212.18 L627.94 210.97 L628.51 209.5 L629.07 207.78 L629.64 205.82 L630.21 203.62 L630.77 201.2 L631.34 198.57 L631.91 195.76 L632.48 192.76 L633.04 189.61 L633.61 186.3 L634.18 182.88 L634.75 179.34 L635.31 175.71 L635.88 172.01 L636.45 168.25 L637.02 164.46 L637.58 160.65 L638.15 156.84 L638.72 153.06 L639.28 149.32 L639.85 145.63 L640.42 142.02 L640.99 138.51 L641.55 135.1 L642.12 131.82 L642.69 128.69 L643.26 125.71 L643.82 122.9 L644.39 120.27 L644.96 117.84 L645.53 115.61 L646.09 113.6 L646.66 111.82 L647.23 110.26 L647.79 108.95 L648.36 107.87 L648.93 107.04 L649.5 106.46 L650.06 106.13 L650.63 106.05 L651.2 106.22 L651.77 106.64 L652.33 107.29 L652.9 108.19 L653.47 109.32 L654.04 110.67 L654.6 112.24 L655.17 114.02 L655.74 115.99 L656.3 118.15 L656.87 120.49 L657.44 122.98 L658.01 125.63 L658.57 128.41 L659.14 131.31 L659.71 134.31 L660.28 137.4 L660.84 140.57 L661.41 143.79 L661.98 147.05 L662.55 150.34 L663.11 153.63 L663.68 156.91 L664.25 160.18 L664.81 163.39 L665.38 166.56 L665.95 169.65 L666.52 172.65 L667.08 175.56 L667.65 178.35 L668.22 181.01 L668.79 183.53 L669.35 185.9 L669.92 188.11 L670.49 190.14 L671.06 192 L671.62 193.66 L672.19 195.13 L672.76 196.4 L673.32 197.46 L673.89 198.31 L674.46 198.94 L675.03 199.36 L675.59 199.57 L676.16 199.55 L676.73 199.33 L677.3 198.89 L677.86 198.24 L678.43 197.39 L679 196.35 L679.57 195.11 L680.13 193.68 L680.7 192.08" fill="none" stroke="#e72e26" stroke-width="2.8" stroke-linejoin="round" stroke-linecap="butt"/>
<path d="M397.6 158.3 L398.17 149.17 L398.73 140.08 L399.3 131.09 L399.87 122.23 L400.44 113.56 L401 105.11 L401.57 96.93 L402.14 89.06 L402.71 81.54 L403.27 74.4 L403.84 67.67 L404.41 61.41 L404.98 55.62 L405.54 50.35 L406.11 45.62 L406.68 41.45 L407.24 37.86 L407.81 34.87 L408.38 32.49 L408.95 30.74 L409.51 29.63 L410.08 29.15 L410.65 29.31 L411.22 30.12 L411.78 31.56 L412.35 33.62 L412.92 36.31 L413.49 39.59 L414.05 43.46 L414.62 47.9 L415.19 52.88 L415.75 58.38 L416.32 64.37 L416.89 70.81 L417.46 77.69 L418.02 84.95 L418.59 92.58 L419.16 100.51 L419.73 108.73 L420.29 117.18 L420.86 125.83 L421.43 134.62 L422 143.53 L422.56 152.49 L423.13 161.47 L423.7 170.42 L424.26 179.3 L424.83 188.07 L425.4 196.67 L425.97 205.07 L426.53 213.23 L427.1 221.1 L427.67 228.65 L428.24 235.84 L428.8 242.64 L429.37 249 L429.94 254.91 L430.51 260.32 L431.07 265.22 L431.64 269.59 L432.21 273.39 L432.77 276.62 L433.34 279.25 L433.91 281.28 L434.48 282.7 L435.04 283.5 L435.61 283.68 L436.18 283.23 L436.75 282.17 L437.31 280.49 L437.88 278.21 L438.45 275.34 L439.02 271.9 L439.58 267.9 L440.15 263.37 L440.72 258.32 L441.28 252.79 L441.85 246.8 L442.42 240.39 L442.99 233.58 L443.55 226.42 L444.12 218.93 L444.69 211.16 L445.26 203.14 L445.82 194.92 L446.39 186.54 L446.96 178.03 L447.53 169.45 L448.09 160.83 L448.66 152.22 L449.23 143.66 L449.79 135.2 L450.36 126.87 L450.93 118.71 L451.5 110.77 L452.06 103.09 L452.63 95.7 L453.2 88.64 L453.77 81.94 L454.33 75.63 L454.9 69.76 L455.47 64.33 L456.04 59.39 L456.6 54.95 L457.17 51.03 L457.74 47.66 L458.3 44.84 L458.87 42.6 L459.44 40.93 L460.01 39.85 L460.57 39.36 L461.14 39.45 L461.71 40.14 L462.28 41.41 L462.84 43.26 L463.41 45.67 L463.98 48.63 L464.55 52.13 L465.11 56.14 L465.68 60.65 L466.25 65.63 L466.81 71.05 L467.38 76.89 L467.95 83.11 L468.52 89.68 L469.08 96.58 L469.65 103.76 L470.22 111.18 L470.79 118.82 L471.35 126.63 L471.92 134.57 L472.49 142.6 L473.06 150.68 L473.62 158.78 L474.19 166.84 L474.76 174.84 L475.32 182.73 L475.89 190.47 L476.46 198.03 L477.03 205.36 L477.59 212.43 L478.16 219.22 L478.73 225.68 L479.3 231.78 L479.86 237.49 L480.43 242.8 L481 247.67 L481.57 252.08 L482.13 256 L482.7 259.43 L483.27 262.35 L483.83 264.74 L484.4 266.6 L484.97 267.91 L485.54 268.67 L486.1 268.89 L486.67 268.55 L487.24 267.68 L487.81 266.26 L488.37 264.31 L488.94 261.85 L489.51 258.88 L490.08 255.43 L490.64 251.51 L491.21 247.14 L491.78 242.35 L492.34 237.16 L492.91 231.6 L493.48 225.7 L494.05 219.49 L494.61 213 L495.18 206.26 L495.75 199.31 L496.32 192.19 L496.88 184.93 L497.45 177.57 L498.02 170.14 L498.59 162.68 L499.15 155.23 L499.72 147.83 L500.29 140.51 L500.85 133.31 L501.42 126.26 L501.99 119.4 L502.56 112.76 L503.12 106.37 L503.69 100.27 L504.26 94.48 L504.83 89.03 L505.39 83.94 L505.96 79.25 L506.53 74.97 L507.1 71.11 L507.66 67.71 L508.23 64.77 L508.8 62.31 L509.36 60.33 L509.93 58.84 L510.5 57.86 L511.07 57.38 L511.63 57.39 L512.2 57.91 L512.77 58.92 L513.34 60.42 L513.9 62.4 L514.47 64.84 L515.04 67.74 L515.61 71.07 L516.17 74.81 L516.74 78.96 L517.31 83.47 L517.87 88.34 L518.44 93.53 L519.01 99.02 L519.58 104.77 L520.14 110.77 L520.71 116.97 L521.28 123.35 L521.85 129.87 L522.41 136.5 L522.98 143.2 L523.55 149.95 L524.12 156.71 L524.68 163.45 L525.25 170.13 L525.82 176.72 L526.38 183.18 L526.95 189.49 L527.52 195.62 L528.09 201.53 L528.65 207.2 L529.22 212.6 L529.79 217.71 L530.36 222.49 L530.92 226.94 L531.49 231.02 L532.06 234.72 L532.63 238.03 L533.19 240.93 L533.76 243.4 L534.33 245.44 L534.89 247.04 L535.46 248.19 L536.03 248.89 L536.6 249.14 L537.16 248.94 L537.73 248.29 L538.3 247.2 L538.87 245.67 L539.43 243.72 L540 241.35 L540.57 238.59 L541.14 235.45 L541.7 231.93 L542.27 228.08 L542.84 223.89 L543.41 219.41 L543.97 214.64 L544.54 209.62 L545.11 204.37 L545.67 198.92 L546.24 193.3 L546.81 187.54 L547.38 181.66 L547.94 175.69 L548.51 169.67 L549.08 163.63 L549.65 157.59 L550.21 151.58 L550.78 145.65 L551.35 139.8 L551.92 134.08 L552.48 128.51 L553.05 123.12 L553.62 117.92 L554.18 112.96 L554.75 108.25 L555.32 103.81 L555.89 99.66 L556.45 95.83 L557.02 92.32 L557.59 89.17 L558.16 86.37 L558.72 83.94 L559.29 81.89 L559.86 80.23 L560.43 78.97 L560.99 78.11 L561.56 77.65 L562.13 77.59 L562.69 77.93 L563.26 78.66 L563.83 79.79 L564.4 81.3 L564.96 83.18 L565.53 85.42 L566.1 88.01 L566.67 90.93 L567.23 94.17 L567.8 97.71 L568.37 101.53 L568.94 105.61 L569.5 109.93 L570.07 114.46 L570.64 119.18 L571.2 124.07 L571.77 129.1 L572.34 134.25 L572.91 139.49 L573.47 144.79 L574.04 150.13 L574.61 155.48 L575.18 160.81 L575.74 166.1 L576.31 171.32 L576.88 176.44 L577.45 181.45 L578.01 186.31 L578.58 191.01 L579.15 195.52 L579.71 199.81 L580.28 203.88 L580.85 207.7 L581.42 211.25 L581.98 214.52 L582.55 217.49 L583.12 220.16 L583.69 222.5 L584.25 224.51 L584.82 226.18 L585.39 227.5 L585.96 228.48 L586.52 229.1 L587.09 229.37 L587.66 229.28 L588.22 228.84 L588.79 228.06 L589.36 226.94 L589.93 225.48 L590.49 223.7 L591.06 221.61 L591.63 219.22 L592.2 216.54 L592.76 213.59 L593.33 210.38 L593.9 206.93 L594.47 203.26 L595.03 199.4 L595.6 195.35 L596.17 191.14 L596.73 186.8 L597.3 182.34 L597.87 177.79 L598.44 173.16 L599 168.5 L599.57 163.81 L600.14 159.12 L600.71 154.46 L601.27 149.84 L601.84 145.3 L602.41 140.84 L602.98 136.5 L603.54 132.29 L604.11 128.24 L604.68 124.36 L605.24 120.67 L605.81 117.19 L606.38 113.94 L606.95 110.92 L607.51 108.16 L608.08 105.66 L608.65 103.44 L609.22 101.5 L609.78 99.85 L610.35 98.51 L610.92 97.47 L611.49 96.73 L612.05 96.31 L612.62 96.19 L613.19 96.38 L613.75 96.88 L614.32 97.68 L614.89 98.77 L615.46 100.15 L616.02 101.81 L616.59 103.74 L617.16 105.93 L617.73 108.36 L618.29 111.02 L618.86 113.9 L619.43 116.99 L620 120.25 L620.56 123.69 L621.13 127.27 L621.7 130.99 L622.26 134.82 L622.83 138.74 L623.4 142.73 L623.97 146.78 L624.53 150.85 L625.1 154.94 L625.67 159.02 L626.24 163.07 L626.8 167.07 L627.37 171 L627.94 174.85 L628.51 178.59 L629.07 182.2 L629.64 185.67 L630.21 188.99 L630.77 192.13 L631.34 195.09 L631.91 197.84 L632.48 200.39 L633.04 202.7 L633.61 204.79 L634.18 206.63 L634.75 208.22 L635.31 209.55 L635.88 210.62 L636.45 211.43 L637.02 211.97 L637.58 212.23 L638.15 212.23 L638.72 211.97 L639.28 211.44 L639.85 210.65 L640.42 209.6 L640.99 208.31 L641.55 206.78 L642.12 205.02 L642.69 203.04 L643.26 200.86 L643.82 198.47 L644.39 195.9 L644.96 193.17 L645.53 190.28 L646.09 187.24 L646.66 184.09 L647.23 180.83 L647.79 177.47 L648.36 174.05 L648.93 170.56 L649.5 167.04 L650.06 163.5 L650.63 159.96 L651.2 156.43 L651.77 152.94 L652.33 149.49 L652.9 146.11 L653.47 142.81 L654.04 139.61 L654.6 136.52 L655.17 133.56 L655.74 130.74 L656.3 128.08 L656.87 125.58 L657.44 123.26 L658.01 121.13 L658.57 119.2 L659.14 117.47 L659.71 115.95 L660.28 114.66 L660.84 113.59 L661.41 112.75 L661.98 112.14 L662.55 111.76 L663.11 111.61 L663.68 111.7 L664.25 112.01 L664.81 112.55 L665.38 113.32 L665.95 114.3 L666.52 115.49 L667.08 116.89 L667.65 118.48 L668.22 120.26 L668.79 122.22 L669.35 124.34 L669.92 126.62 L670.49 129.03 L671.06 131.58 L671.62 134.24 L672.19 137 L672.76 139.85 L673.32 142.77 L673.89 145.75 L674.46 148.78 L675.03 151.82 L675.59 154.89 L676.16 157.94 L676.73 160.98 L677.3 163.99 L677.86 166.95 L678.43 169.84 L679 172.66 L679.57 175.39 L680.13 178.02 L680.7 180.53" fill="none" stroke="#4bb76a" stroke-width="2.8" stroke-linejoin="round" stroke-linecap="butt"/>
<path d="M397.6 155.96 L398.17 155.5 L398.73 155.02 L399.3 154.54 L399.87 154.05 L400.44 153.54 L401 153.03 L401.57 152.5 L402.14 151.97 L402.71 151.42 L403.27 150.87 L403.84 150.31 L404.41 149.75 L404.98 149.17 L405.54 148.59 L406.11 148 L406.68 147.41 L407.24 146.82 L407.81 146.22 L408.38 145.62 L408.95 145.01 L409.51 144.41 L410.08 143.8 L410.65 143.19 L411.22 142.59 L411.78 141.99 L412.35 141.39 L412.92 140.79 L413.49 140.2 L414.05 139.61 L414.62 139.02 L415.19 138.45 L415.75 137.88 L416.32 137.32 L416.89 136.76 L417.46 136.21 L418.02 135.68 L418.59 135.15 L419.16 134.63 L419.73 134.13 L420.29 133.63 L420.86 133.14 L421.43 132.67 L422 132.2 L422.56 131.75 L423.13 131.31 L423.7 130.88 L424.26 130.46 L424.83 130.06 L425.4 129.66 L425.97 129.27 L426.53 128.9 L427.1 128.53 L427.67 128.18 L428.24 127.83 L428.8 127.5 L429.37 127.17 L429.94 126.85 L430.51 126.54 L431.07 126.23 L431.64 125.93 L432.21 125.64 L432.77 125.35 L433.34 125.06 L433.91 124.78 L434.48 124.5 L435.04 124.23 L435.61 123.95 L436.18 123.67 L436.75 123.4 L437.31 123.12 L437.88 122.84 L438.45 122.56 L439.02 122.28 L439.58 121.99 L440.15 121.7 L440.72 121.4 L441.28 121.1 L441.85 120.79 L442.42 120.48 L442.99 120.16 L443.55 119.83 L444.12 119.49 L444.69 119.14 L445.26 118.79 L445.82 118.42 L446.39 118.05 L446.96 117.67 L447.53 117.28 L448.09 116.87 L448.66 116.46 L449.23 116.05 L449.79 115.62 L450.36 115.18 L450.93 114.73 L451.5 114.28 L452.06 113.81 L452.63 113.34 L453.2 112.86 L453.77 112.38 L454.33 111.88 L454.9 111.38 L455.47 110.88 L456.04 110.37 L456.6 109.86 L457.17 109.34 L457.74 108.82 L458.3 108.29 L458.87 107.77 L459.44 107.24 L460.01 106.72 L460.57 106.19 L461.14 105.66 L461.71 105.14 L462.28 104.62 L462.84 104.1 L463.41 103.59 L463.98 103.08 L464.55 102.57 L465.11 102.08 L465.68 101.58 L466.25 101.1 L466.81 100.62 L467.38 100.15 L467.95 99.69 L468.52 99.24 L469.08 98.79 L469.65 98.36 L470.22 97.94 L470.79 97.53 L471.35 97.12 L471.92 96.73 L472.49 96.35 L473.06 95.98 L473.62 95.62 L474.19 95.27 L474.76 94.94 L475.32 94.61 L475.89 94.29 L476.46 93.99 L477.03 93.69 L477.59 93.4 L478.16 93.13 L478.73 92.86 L479.3 92.6 L479.86 92.35 L480.43 92.11 L481 91.87 L481.57 91.64 L482.13 91.42 L482.7 91.2 L483.27 90.98 L483.83 90.77 L484.4 90.57 L484.97 90.36 L485.54 90.16 L486.1 89.96 L486.67 89.77 L487.24 89.57 L487.81 89.37 L488.37 89.17 L488.94 88.97 L489.51 88.77 L490.08 88.56 L490.64 88.35 L491.21 88.14 L491.78 87.92 L492.34 87.7 L492.91 87.47 L493.48 87.23 L494.05 86.99 L494.61 86.75 L495.18 86.49 L495.75 86.23 L496.32 85.96 L496.88 85.69 L497.45 85.4 L498.02 85.11 L498.59 84.81 L499.15 84.51 L499.72 84.19 L500.29 83.87 L500.85 83.54 L501.42 83.21 L501.99 82.87 L502.56 82.52 L503.12 82.16 L503.69 81.8 L504.26 81.43 L504.83 81.06 L505.39 80.68 L505.96 80.29 L506.53 79.91 L507.1 79.52 L507.66 79.13 L508.23 78.73 L508.8 78.33 L509.36 77.93 L509.93 77.54 L510.5 77.14 L511.07 76.74 L511.63 76.34 L512.2 75.95 L512.77 75.55 L513.34 75.16 L513.9 74.78 L514.47 74.4 L515.04 74.02 L515.61 73.65 L516.17 73.28 L516.74 72.92 L517.31 72.56 L517.87 72.22 L518.44 71.88 L519.01 71.55 L519.58 71.22 L520.14 70.91 L520.71 70.6 L521.28 70.3 L521.85 70.02 L522.41 69.74 L522.98 69.47 L523.55 69.2 L524.12 68.95 L524.68 68.71 L525.25 68.48 L525.82 68.25 L526.38 68.04 L526.95 67.83 L527.52 67.63 L528.09 67.44 L528.65 67.26 L529.22 67.09 L529.79 66.92 L530.36 66.76 L530.92 66.61 L531.49 66.46 L532.06 66.32 L532.63 66.18 L533.19 66.05 L533.76 65.92 L534.33 65.8 L534.89 65.68 L535.46 65.56 L536.03 65.44 L536.6 65.33 L537.16 65.21 L537.73 65.1 L538.3 64.98 L538.87 64.87 L539.43 64.75 L540 64.63 L540.57 64.51 L541.14 64.39 L541.7 64.26 L542.27 64.13 L542.84 64 L543.41 63.86 L543.97 63.72 L544.54 63.57 L545.11 63.42 L545.67 63.26 L546.24 63.1 L546.81 62.93 L547.38 62.75 L547.94 62.57 L548.51 62.38 L549.08 62.19 L549.65 61.99 L550.21 61.78 L550.78 61.57 L551.35 61.35 L551.92 61.13 L552.48 60.9 L553.05 60.66 L553.62 60.42 L554.18 60.18 L554.75 59.93 L555.32 59.67 L555.89 59.42 L556.45 59.15 L557.02 58.89 L557.59 58.62 L558.16 58.35 L558.72 58.08 L559.29 57.81 L559.86 57.53 L560.43 57.26 L560.99 56.98 L561.56 56.71 L562.13 56.43 L562.69 56.16 L563.26 55.89 L563.83 55.62 L564.4 55.36 L564.96 55.1 L565.53 54.84 L566.1 54.58 L566.67 54.33 L567.23 54.09 L567.8 53.85 L568.37 53.62 L568.94 53.39 L569.5 53.16 L570.07 52.95 L570.64 52.74 L571.2 52.54 L571.77 52.34 L572.34 52.15 L572.91 51.97 L573.47 51.8 L574.04 51.63 L574.61 51.47 L575.18 51.32 L575.74 51.18 L576.31 51.04 L576.88 50.91 L577.45 50.79 L578.01 50.67 L578.58 50.56 L579.15 50.45 L579.71 50.36 L580.28 50.26 L580.85 50.18 L581.42 50.09 L581.98 50.02 L582.55 49.94 L583.12 49.87 L583.69 49.81 L584.25 49.75 L584.82 49.69 L585.39 49.63 L585.96 49.58 L586.52 49.52 L587.09 49.47 L587.66 49.42 L588.22 49.37 L588.79 49.32 L589.36 49.26 L589.93 49.21 L590.49 49.16 L591.06 49.1 L591.63 49.04 L592.2 48.98 L592.76 48.92 L593.33 48.85 L593.9 48.78 L594.47 48.71 L595.03 48.63 L595.6 48.55 L596.17 48.46 L596.73 48.37 L597.3 48.27 L597.87 48.17 L598.44 48.07 L599 47.96 L599.57 47.84 L600.14 47.72 L600.71 47.6 L601.27 47.47 L601.84 47.34 L602.41 47.2 L602.98 47.06 L603.54 46.91 L604.11 46.76 L604.68 46.6 L605.24 46.44 L605.81 46.28 L606.38 46.11 L606.95 45.94 L607.51 45.77 L608.08 45.6 L608.65 45.42 L609.22 45.25 L609.78 45.07 L610.35 44.89 L610.92 44.71 L611.49 44.53 L612.05 44.35 L612.62 44.17 L613.19 43.99 L613.75 43.81 L614.32 43.64 L614.89 43.47 L615.46 43.29 L616.02 43.13 L616.59 42.96 L617.16 42.8 L617.73 42.64 L618.29 42.49 L618.86 42.33 L619.43 42.19 L620 42.05 L620.56 41.91 L621.13 41.78 L621.7 41.65 L622.26 41.53 L622.83 41.41 L623.4 41.3 L623.97 41.19 L624.53 41.09 L625.1 41 L625.67 40.91 L626.24 40.83 L626.8 40.75 L627.37 40.67 L627.94 40.61 L628.51 40.54 L629.07 40.49 L629.64 40.43 L630.21 40.38 L630.77 40.34 L631.34 40.3 L631.91 40.26 L632.48 40.23 L633.04 40.2 L633.61 40.17 L634.18 40.15 L634.75 40.12 L635.31 40.1 L635.88 40.09 L636.45 40.07 L637.02 40.05 L637.58 40.04 L638.15 40.02 L638.72 40.01 L639.28 40 L639.85 39.98 L640.42 39.97 L640.99 39.95 L641.55 39.93 L642.12 39.91 L642.69 39.89 L643.26 39.87 L643.82 39.84 L644.39 39.81 L644.96 39.78 L645.53 39.74 L646.09 39.71 L646.66 39.66 L647.23 39.62 L647.79 39.57 L648.36 39.52 L648.93 39.46 L649.5 39.4 L650.06 39.34 L650.63 39.27 L651.2 39.2 L651.77 39.13 L652.33 39.05 L652.9 38.97 L653.47 38.88 L654.04 38.79 L654.6 38.7 L655.17 38.61 L655.74 38.51 L656.3 38.41 L656.87 38.3 L657.44 38.2 L658.01 38.09 L658.57 37.98 L659.14 37.87 L659.71 37.75 L660.28 37.64 L660.84 37.53 L661.41 37.41 L661.98 37.29 L662.55 37.18 L663.11 37.06 L663.68 36.95 L664.25 36.83 L664.81 36.72 L665.38 36.61 L665.95 36.5 L666.52 36.39 L667.08 36.29 L667.65 36.18 L668.22 36.08 L668.79 35.98 L669.35 35.89 L669.92 35.79 L670.49 35.71 L671.06 35.62 L671.62 35.54 L672.19 35.46 L672.76 35.38 L673.32 35.31 L673.89 35.25 L674.46 35.18 L675.03 35.13 L675.59 35.07 L676.16 35.02 L676.73 34.97 L677.3 34.93 L677.86 34.89 L678.43 34.86 L679 34.82 L679.57 34.8 L680.13 34.77 L680.7 34.75" fill="none" stroke="#2c4a9f" stroke-width="2.8" stroke-linejoin="round" stroke-linecap="butt"/>
<g font-size="10.1" font-weight="bold" fill="#1c1c1c" stroke="#1c1c1c" stroke-width="0.2">
<text transform="translate(394 31.3) scale(0.95 1)" text-anchor="end">1</text>
<text transform="translate(394 57.3) scale(0.95 1)" text-anchor="end">0.8</text>
<text transform="translate(394 83.3) scale(0.95 1)" text-anchor="end">0.6</text>
<text transform="translate(394 109.3) scale(0.95 1)" text-anchor="end">0.4</text>
<text transform="translate(394 135.3) scale(0.95 1)" text-anchor="end">0.2</text>
<text transform="translate(394 161.3) scale(0.95 1)" text-anchor="end">0</text>
<text transform="translate(394 187.3) scale(0.95 1)" text-anchor="end">-0.2</text>
<text transform="translate(394 213.3) scale(0.95 1)" text-anchor="end">-0.4</text>
<text transform="translate(394 239.3) scale(0.95 1)" text-anchor="end">-0.6</text>
<text transform="translate(394 265.3) scale(0.95 1)" text-anchor="end">-0.8</text>
<text transform="translate(394 291.3) scale(0.95 1)" text-anchor="end">-1</text>
<text transform="translate(397.6 300.9) scale(0.95 1)" text-anchor="middle">0</text>
<text transform="translate(468.38 300.9) scale(0.95 1)" text-anchor="middle">0.5</text>
<text transform="translate(539.15 300.9) scale(0.95 1)" text-anchor="middle">1</text>
<text transform="translate(609.93 300.9) scale(0.95 1)" text-anchor="middle">1.5</text>
<text transform="translate(680.7 300.9) scale(0.95 1)" text-anchor="middle">2</text>
</g>
<text x="653.63" y="318.42" font-size="13.86" fill="#1c1c1c">×</text>
<text x="663" y="315.9" font-size="9" textLength="9.52" lengthAdjust="spacingAndGlyphs" font-weight="bold" fill="#1c1c1c">10</text>
<text x="672.9" y="312" font-size="7.6" textLength="8.09" lengthAdjust="spacingAndGlyphs" font-weight="bold" fill="#1c1c1c">-9</text>
<text x="513.4" y="314" font-size="10.9" textLength="51.27" lengthAdjust="spacingAndGlyphs" font-weight="bold" fill="#1c1c1c">Time (in s)</text>
<text transform="translate(372.7 227.2) rotate(-90)" x="0" y="0" font-size="10.9" textLength="139.29" lengthAdjust="spacingAndGlyphs" font-weight="bold" fill="#1c1c1c">Magnetization components</text>
<text x="446.15" y="12.4" font-size="17.6" textLength="186.22" lengthAdjust="spacingAndGlyphs" font-weight="bold" fill="#111" stroke="#111" stroke-width="0.35" stroke-linejoin="round">damping factor= 0.05</text>
<text x="358.55" y="16.6" font-size="19.4" textLength="25.14" lengthAdjust="spacingAndGlyphs" font-weight="bold" fill="#111" stroke="#111" stroke-width="0.35" stroke-linejoin="round">(b)</text>
<rect x="594.9" y="210.7" width="70" height="47.4" fill="#fff" stroke="#b4b4b4" stroke-width="0.8"/>
<path d="M597 219H611.6" stroke="#e72e26" stroke-width="2.5" fill="none"/>
<text transform="translate(613 220.5) scale(0.9607 1)" font-size="9" font-weight="bold" fill="#1c1c1c" stroke="#1c1c1c" stroke-width="0.15">along x (M<tspan font-size="7.02" dy="4.32">x</tspan><tspan dy="-4.32">)</tspan></text>
<path d="M597 234H611.6" stroke="#4bb76a" stroke-width="2.5" fill="none"/>
<text transform="translate(613 235.5) scale(0.9607 1)" font-size="9" font-weight="bold" fill="#1c1c1c" stroke="#1c1c1c" stroke-width="0.15">along y (M<tspan font-size="7.02" dy="4.32">y</tspan><tspan dy="-4.32">)</tspan></text>
<path d="M597 249.3H611.6" stroke="#2c4a9f" stroke-width="2.9" fill="none"/>
<text transform="translate(613 250.8) scale(0.9778 1)" font-size="9" font-weight="bold" fill="#1c1c1c" stroke="#1c1c1c" stroke-width="0.15">along z (M<tspan font-size="7.02" dy="4.32">z</tspan><tspan dy="-4.32">)</tspan></text>
</g>
<g id="plot-c">
<path d="M183.5 353.8V620.5H507.5" fill="none" stroke="#c0c0c0" stroke-width="1"/>
<path d="M183.5 620.5v-3.24 M264.5 620.5v-3.24 M345.5 620.5v-3.24 M426.5 620.5v-3.24 M507.5 620.5v-3.24 M183.5 353.5h3.24 M183.5 380.5h3.24 M183.5 407.5h3.24 M183.5 433.5h3.24 M183.5 460.5h3.24 M183.5 487.5h3.24 M183.5 514.5h3.24 M183.5 540.5h3.24 M183.5 567.5h3.24 M183.5 594.5h3.24 M183.5 620.5h3.24" fill="none" stroke="#c0c0c0" stroke-width="1"/>
<path d="M183.5 353.82 L184.15 354.17 L184.8 355.17 L185.45 356.82 L186.1 359.11 L186.75 362.02 L187.4 365.55 L188.05 369.68 L188.69 374.38 L189.34 379.63 L189.99 385.4 L190.64 391.66 L191.29 398.38 L191.94 405.52 L192.59 413.06 L193.24 420.94 L193.89 429.14 L194.54 437.6 L195.19 446.28 L195.84 455.15 L196.49 464.15 L197.14 473.25 L197.78 482.39 L198.43 491.52 L199.08 500.61 L199.73 509.6 L200.38 518.46 L201.03 527.14 L201.68 535.59 L202.33 543.77 L202.98 551.65 L203.63 559.18 L204.28 566.33 L204.93 573.06 L205.58 579.35 L206.23 585.15 L206.87 590.45 L207.52 595.22 L208.17 599.44 L208.82 603.08 L209.47 606.14 L210.12 608.59 L210.77 610.44 L211.42 611.67 L212.07 612.28 L212.72 612.27 L213.37 611.64 L214.02 610.4 L214.67 608.56 L215.32 606.12 L215.96 603.12 L216.61 599.55 L217.26 595.45 L217.91 590.83 L218.56 585.72 L219.21 580.16 L219.86 574.16 L220.51 567.77 L221.16 561.01 L221.81 553.93 L222.46 546.56 L223.11 538.93 L223.76 531.09 L224.41 523.08 L225.06 514.94 L225.7 506.71 L226.35 498.43 L227 490.14 L227.65 481.89 L228.3 473.71 L228.95 465.65 L229.6 457.74 L230.25 450.03 L230.9 442.54 L231.55 435.32 L232.2 428.41 L232.85 421.82 L233.5 415.6 L234.15 409.77 L234.79 404.35 L235.44 399.38 L236.09 394.86 L236.74 390.83 L237.39 387.3 L238.04 384.28 L238.69 381.78 L239.34 379.81 L239.99 378.38 L240.64 377.49 L241.29 377.13 L241.94 377.32 L242.59 378.03 L243.24 379.27 L243.88 381.02 L244.53 383.28 L245.18 386.01 L245.83 389.22 L246.48 392.87 L247.13 396.94 L247.78 401.42 L248.43 406.27 L249.08 411.47 L249.73 416.99 L250.38 422.8 L251.03 428.87 L251.68 435.16 L252.33 441.64 L252.97 448.29 L253.62 455.05 L254.27 461.91 L254.92 468.81 L255.57 475.74 L256.22 482.65 L256.87 489.52 L257.52 496.3 L258.17 502.96 L258.82 509.48 L259.47 515.81 L260.12 521.94 L260.77 527.83 L261.42 533.46 L262.07 538.8 L262.71 543.83 L263.36 548.52 L264.01 552.86 L264.66 556.82 L265.31 560.4 L265.96 563.58 L266.61 566.34 L267.26 568.67 L267.91 570.58 L268.56 572.05 L269.21 573.08 L269.86 573.68 L270.51 573.83 L271.16 573.56 L271.8 572.85 L272.45 571.72 L273.1 570.19 L273.75 568.25 L274.4 565.93 L275.05 563.24 L275.7 560.2 L276.35 556.83 L277 553.15 L277.65 549.17 L278.3 544.92 L278.95 540.43 L279.6 535.72 L280.25 530.82 L280.89 525.74 L281.54 520.53 L282.19 515.2 L282.84 509.79 L283.49 504.32 L284.14 498.81 L284.79 493.3 L285.44 487.82 L286.09 482.39 L286.74 477.03 L287.39 471.77 L288.04 466.64 L288.69 461.67 L289.34 456.86 L289.98 452.25 L290.63 447.86 L291.28 443.7 L291.93 439.79 L292.58 436.15 L293.23 432.79 L293.88 429.73 L294.53 426.98 L295.18 424.55 L295.83 422.44 L296.48 420.67 L297.13 419.23 L297.78 418.14 L298.43 417.39 L299.08 416.97 L299.72 416.9 L300.37 417.17 L301.02 417.76 L301.67 418.68 L302.32 419.91 L302.97 421.45 L303.62 423.29 L304.27 425.4 L304.92 427.78 L305.57 430.42 L306.22 433.29 L306.87 436.38 L307.52 439.68 L308.17 443.16 L308.81 446.8 L309.46 450.58 L310.11 454.49 L310.76 458.5 L311.41 462.59 L312.06 466.75 L312.71 470.94 L313.36 475.15 L314.01 479.36 L314.66 483.54 L315.31 487.69 L315.96 491.76 L316.61 495.76 L317.26 499.66 L317.9 503.43 L318.55 507.07 L319.2 510.56 L319.85 513.88 L320.5 517.01 L321.15 519.96 L321.8 522.69 L322.45 525.21 L323.1 527.5 L323.75 529.55 L324.4 531.36 L325.05 532.93 L325.7 534.24 L326.35 535.29 L326.99 536.08 L327.64 536.62 L328.29 536.9 L328.94 536.92 L329.59 536.68 L330.24 536.2 L330.89 535.48 L331.54 534.52 L332.19 533.33 L332.84 531.92 L333.49 530.29 L334.14 528.47 L334.79 526.46 L335.44 524.28 L336.09 521.93 L336.73 519.43 L337.38 516.8 L338.03 514.05 L338.68 511.19 L339.33 508.24 L339.98 505.21 L340.63 502.13 L341.28 499.01 L341.93 495.85 L342.58 492.69 L343.23 489.53 L343.88 486.39 L344.53 483.29 L345.18 480.23 L345.82 477.24 L346.47 474.33 L347.12 471.51 L347.77 468.79 L348.42 466.19 L349.07 463.72 L349.72 461.38 L350.37 459.19 L351.02 457.16 L351.67 455.29 L352.32 453.59 L352.97 452.06 L353.62 450.72 L354.27 449.57 L354.91 448.6 L355.56 447.83 L356.21 447.25 L356.86 446.86 L357.51 446.66 L358.16 446.66 L358.81 446.84 L359.46 447.21 L360.11 447.76 L360.76 448.48 L361.41 449.37 L362.06 450.43 L362.71 451.64 L363.36 453 L364.01 454.5 L364.65 456.13 L365.3 457.88 L365.95 459.74 L366.6 461.69 L367.25 463.74 L367.9 465.86 L368.55 468.05 L369.2 470.3 L369.85 472.58 L370.5 474.9 L371.15 477.23 L371.8 479.57 L372.45 481.91 L373.1 484.23 L373.74 486.53 L374.39 488.78 L375.04 490.99 L375.69 493.14 L376.34 495.22 L376.99 497.23 L377.64 499.15 L378.29 500.97 L378.94 502.69 L379.59 504.3 L380.24 505.8 L380.89 507.17 L381.54 508.42 L382.19 509.54 L382.83 510.52 L383.48 511.36 L384.13 512.07 L384.78 512.63 L385.43 513.05 L386.08 513.33 L386.73 513.47 L387.38 513.46 L388.03 513.32 L388.68 513.04 L389.33 512.63 L389.98 512.09 L390.63 511.42 L391.28 510.63 L391.92 509.73 L392.57 508.72 L393.22 507.61 L393.87 506.41 L394.52 505.11 L395.17 503.74 L395.82 502.29 L396.47 500.78 L397.12 499.21 L397.77 497.6 L398.42 495.94 L399.07 494.26 L399.72 492.55 L400.37 490.83 L401.02 489.11 L401.66 487.38 L402.31 485.67 L402.96 483.99 L403.61 482.33 L404.26 480.7 L404.91 479.12 L405.56 477.59 L406.21 476.12 L406.86 474.71 L407.51 473.37 L408.16 472.1 L408.81 470.92 L409.46 469.82 L410.11 468.82 L410.75 467.9 L411.4 467.08 L412.05 466.36 L412.7 465.75 L413.35 465.23 L414 464.82 L414.65 464.51 L415.3 464.31 L415.95 464.21 L416.6 464.22 L417.25 464.33 L417.9 464.54 L418.55 464.84 L419.2 465.24 L419.84 465.73 L420.49 466.31 L421.14 466.97 L421.79 467.72 L422.44 468.53 L423.09 469.42 L423.74 470.37 L424.39 471.38 L425.04 472.44 L425.69 473.55 L426.34 474.7 L426.99 475.89 L427.64 477.1 L428.29 478.34 L428.93 479.59 L429.58 480.85 L430.23 482.12 L430.88 483.38 L431.53 484.63 L432.18 485.87 L432.83 487.08 L433.48 488.27 L434.13 489.43 L434.78 490.55 L435.43 491.63 L436.08 492.66 L436.73 493.64 L437.38 494.56 L438.03 495.43 L438.67 496.23 L439.32 496.97 L439.97 497.64 L440.62 498.23 L441.27 498.76 L441.92 499.21 L442.57 499.58 L443.22 499.88 L443.87 500.1 L444.52 500.25 L445.17 500.32 L445.82 500.31 L446.47 500.23 L447.12 500.07 L447.76 499.85 L448.41 499.55 L449.06 499.19 L449.71 498.76 L450.36 498.28 L451.01 497.73 L451.66 497.13 L452.31 496.48 L452.96 495.78 L453.61 495.04 L454.26 494.26 L454.91 493.45 L455.56 492.61 L456.21 491.74 L456.85 490.85 L457.5 489.94 L458.15 489.02 L458.8 488.1 L459.45 487.17 L460.1 486.25 L460.75 485.33 L461.4 484.43 L462.05 483.54 L462.7 482.67 L463.35 481.82 L464 481 L464.65 480.21 L465.3 479.46 L465.94 478.74 L466.59 478.06 L467.24 477.43 L467.89 476.85 L468.54 476.31 L469.19 475.82 L469.84 475.38 L470.49 475 L471.14 474.67 L471.79 474.4 L472.44 474.18 L473.09 474.02 L473.74 473.92 L474.39 473.87 L475.04 473.87 L475.68 473.93 L476.33 474.05 L476.98 474.21 L477.63 474.43 L478.28 474.7 L478.93 475.01 L479.58 475.37 L480.23 475.77 L480.88 476.21 L481.53 476.68 L482.18 477.19 L482.83 477.74 L483.48 478.31 L484.13 478.9 L484.77 479.52 L485.42 480.15 L486.07 480.8 L486.72 481.47 L487.37 482.14 L488.02 482.81 L488.67 483.49 L489.32 484.17 L489.97 484.84 L490.62 485.5 L491.27 486.15 L491.92 486.79 L492.57 487.4 L493.22 488 L493.86 488.58 L494.51 489.13 L495.16 489.65 L495.81 490.14 L496.46 490.61 L497.11 491.03 L497.76 491.43 L498.41 491.78 L499.06 492.1 L499.71 492.38 L500.36 492.62 L501.01 492.82 L501.66 492.97 L502.31 493.09 L502.95 493.17 L503.6 493.2 L504.25 493.2 L504.9 493.15 L505.55 493.07 L506.2 492.94 L506.85 492.78 L507.5 492.59" fill="none" stroke="#e72e26" stroke-width="3.2" stroke-linejoin="round" stroke-linecap="butt"/>
<path d="M183.5 487.3 L184.15 477.99 L184.8 468.73 L185.45 459.58 L186.1 450.56 L186.75 441.73 L187.4 433.14 L188.05 424.82 L188.69 416.82 L189.34 409.18 L189.99 401.93 L190.64 395.11 L191.29 388.76 L191.94 382.9 L192.59 377.56 L193.24 372.78 L193.89 368.56 L194.54 364.94 L195.19 361.93 L195.84 359.55 L196.49 357.8 L197.14 356.68 L197.78 356.22 L198.43 356.4 L199.08 357.22 L199.73 358.68 L200.38 360.77 L201.03 363.47 L201.68 366.78 L202.33 370.67 L202.98 375.12 L203.63 380.1 L204.28 385.6 L204.93 391.57 L205.58 398 L206.23 404.83 L206.87 412.05 L207.52 419.61 L208.17 427.48 L208.82 435.6 L209.47 443.95 L210.12 452.47 L210.77 461.13 L211.42 469.88 L212.07 478.67 L212.72 487.47 L213.37 496.22 L214.02 504.89 L214.67 513.43 L215.32 521.8 L215.96 529.96 L216.61 537.86 L217.26 545.48 L217.91 552.77 L218.56 559.7 L219.21 566.24 L219.86 572.36 L220.51 578.02 L221.16 583.2 L221.81 587.89 L222.46 592.05 L223.11 595.67 L223.76 598.74 L224.41 601.24 L225.06 603.17 L225.7 604.52 L226.35 605.28 L227 605.46 L227.65 605.06 L228.3 604.09 L228.95 602.54 L229.6 600.44 L230.25 597.8 L230.9 594.64 L231.55 590.97 L232.2 586.82 L232.85 582.21 L233.5 577.16 L234.15 571.71 L234.79 565.89 L235.44 559.72 L236.09 553.25 L236.74 546.5 L237.39 539.51 L238.04 532.31 L238.69 524.96 L239.34 517.47 L239.99 509.89 L240.64 502.27 L241.29 494.63 L241.94 487.01 L242.59 479.46 L243.24 472.01 L243.88 464.69 L244.53 457.55 L245.18 450.61 L245.83 443.91 L246.48 437.48 L247.13 431.35 L247.78 425.54 L248.43 420.09 L249.08 415.01 L249.73 410.34 L250.38 406.08 L251.03 402.26 L251.68 398.89 L252.33 395.98 L252.97 393.55 L253.62 391.6 L254.27 390.13 L254.92 389.16 L255.57 388.67 L256.22 388.68 L256.87 389.16 L257.52 390.13 L258.17 391.56 L258.82 393.44 L259.47 395.77 L260.12 398.53 L260.77 401.69 L261.42 405.24 L262.07 409.16 L262.71 413.42 L263.36 418.01 L264.01 422.88 L264.66 428.03 L265.31 433.41 L265.96 439 L266.61 444.78 L267.26 450.7 L267.91 456.74 L268.56 462.87 L269.21 469.06 L269.86 475.27 L270.51 481.48 L271.16 487.65 L271.8 493.75 L272.45 499.76 L273.1 505.65 L273.75 511.38 L274.4 516.93 L275.05 522.28 L275.7 527.4 L276.35 532.27 L277 536.87 L277.65 541.17 L278.3 545.17 L278.95 548.83 L279.6 552.16 L280.25 555.13 L280.89 557.74 L281.54 559.97 L282.19 561.82 L282.84 563.29 L283.49 564.36 L284.14 565.05 L284.79 565.35 L285.44 565.27 L286.09 564.8 L286.74 563.96 L287.39 562.75 L288.04 561.19 L288.69 559.28 L289.34 557.05 L289.98 554.49 L290.63 551.64 L291.28 548.51 L291.93 545.11 L292.58 541.47 L293.23 537.6 L293.88 533.54 L294.53 529.29 L295.18 524.89 L295.83 520.36 L296.48 515.72 L297.13 510.99 L297.78 506.2 L298.43 501.38 L299.08 496.55 L299.72 491.72 L300.37 486.94 L301.02 482.21 L301.67 477.57 L302.32 473.02 L302.97 468.6 L303.62 464.33 L304.27 460.22 L304.92 456.29 L305.57 452.57 L306.22 449.05 L306.87 445.77 L307.52 442.73 L308.17 439.95 L308.81 437.43 L309.46 435.19 L310.11 433.22 L310.76 431.55 L311.41 430.17 L312.06 429.09 L312.71 428.31 L313.36 427.82 L314.01 427.63 L314.66 427.74 L315.31 428.14 L315.96 428.82 L316.61 429.77 L317.26 431 L317.9 432.49 L318.55 434.23 L319.2 436.2 L319.85 438.4 L320.5 440.82 L321.15 443.43 L321.8 446.22 L322.45 449.18 L323.1 452.28 L323.75 455.52 L324.4 458.87 L325.05 462.32 L325.7 465.85 L326.35 469.44 L326.99 473.07 L327.64 476.72 L328.29 480.38 L328.94 484.03 L329.59 487.64 L330.24 491.21 L330.89 494.71 L331.54 498.13 L332.19 501.46 L332.84 504.67 L333.49 507.75 L334.14 510.7 L334.79 513.49 L335.44 516.12 L336.09 518.57 L336.73 520.84 L337.38 522.92 L338.03 524.79 L338.68 526.46 L339.33 527.91 L339.98 529.15 L340.63 530.17 L341.28 530.96 L341.93 531.53 L342.58 531.87 L343.23 531.99 L343.88 531.89 L344.53 531.58 L345.18 531.05 L345.82 530.32 L346.47 529.38 L347.12 528.25 L347.77 526.94 L348.42 525.44 L349.07 523.79 L349.72 521.97 L350.37 520.01 L351.02 517.91 L351.67 515.7 L352.32 513.37 L352.97 510.95 L353.62 508.44 L354.27 505.86 L354.91 503.23 L355.56 500.55 L356.21 497.84 L356.86 495.12 L357.51 492.4 L358.16 489.68 L358.81 487 L359.46 484.34 L360.11 481.74 L360.76 479.2 L361.41 476.74 L362.06 474.35 L362.71 472.07 L363.36 469.88 L364.01 467.82 L364.65 465.87 L365.3 464.06 L365.95 462.38 L366.6 460.85 L367.25 459.47 L367.9 458.24 L368.55 457.17 L369.2 456.27 L369.85 455.52 L370.5 454.95 L371.15 454.53 L371.8 454.29 L372.45 454.21 L373.1 454.29 L373.74 454.53 L374.39 454.93 L375.04 455.48 L375.69 456.18 L376.34 457.03 L376.99 458.01 L377.64 459.12 L378.29 460.35 L378.94 461.7 L379.59 463.15 L380.24 464.71 L380.89 466.35 L381.54 468.08 L382.19 469.87 L382.83 471.72 L383.48 473.63 L384.13 475.58 L384.78 477.56 L385.43 479.56 L386.08 481.57 L386.73 483.58 L387.38 485.58 L388.03 487.56 L388.68 489.52 L389.33 491.43 L389.98 493.31 L390.63 495.12 L391.28 496.88 L391.92 498.56 L392.57 500.16 L393.22 501.69 L393.87 503.11 L394.52 504.45 L395.17 505.68 L395.82 506.8 L396.47 507.81 L397.12 508.71 L397.77 509.5 L398.42 510.16 L399.07 510.7 L399.72 511.12 L400.37 511.42 L401.02 511.6 L401.66 511.65 L402.31 511.58 L402.96 511.4 L403.61 511.1 L404.26 510.69 L404.91 510.17 L405.56 509.55 L406.21 508.82 L406.86 508 L407.51 507.09 L408.16 506.1 L408.81 505.03 L409.46 503.88 L410.11 502.67 L410.75 501.4 L411.4 500.08 L412.05 498.72 L412.7 497.32 L413.35 495.88 L414 494.43 L414.65 492.96 L415.3 491.48 L415.95 490.01 L416.6 488.54 L417.25 487.08 L417.9 485.64 L418.55 484.24 L419.2 482.86 L419.84 481.53 L420.49 480.25 L421.14 479.01 L421.79 477.84 L422.44 476.72 L423.09 475.68 L423.74 474.7 L424.39 473.8 L425.04 472.98 L425.69 472.24 L426.34 471.58 L426.99 471.01 L427.64 470.52 L428.29 470.13 L428.93 469.82 L429.58 469.61 L430.23 469.48 L430.88 469.44 L431.53 469.49 L432.18 469.63 L432.83 469.85 L433.48 470.16 L434.13 470.54 L434.78 471 L435.43 471.53 L436.08 472.14 L436.73 472.81 L437.38 473.54 L438.03 474.32 L438.67 475.16 L439.32 476.05 L439.97 476.98 L440.62 477.95 L441.27 478.95 L441.92 479.98 L442.57 481.03 L443.22 482.1 L443.87 483.17 L444.52 484.26 L445.17 485.34 L445.82 486.42 L446.47 487.48 L447.12 488.53 L447.76 489.56 L448.41 490.57 L449.06 491.54 L449.71 492.48 L450.36 493.39 L451.01 494.25 L451.66 495.06 L452.31 495.83 L452.96 496.54 L453.61 497.2 L454.26 497.8 L454.91 498.34 L455.56 498.82 L456.21 499.23 L456.85 499.59 L457.5 499.87 L458.15 500.1 L458.8 500.25 L459.45 500.34 L460.1 500.37 L460.75 500.33 L461.4 500.23 L462.05 500.07 L462.7 499.84 L463.35 499.56 L464 499.22 L464.65 498.83 L465.3 498.39 L465.94 497.9 L466.59 497.36 L467.24 496.78 L467.89 496.17 L468.54 495.52 L469.19 494.84 L469.84 494.13 L470.49 493.39 L471.14 492.64 L471.79 491.87 L472.44 491.09 L473.09 490.3 L473.74 489.51 L474.39 488.72 L475.04 487.93 L475.68 487.15 L476.33 486.38 L476.98 485.63 L477.63 484.9 L478.28 484.18 L478.93 483.5 L479.58 482.84 L480.23 482.21 L480.88 481.61 L481.53 481.05 L482.18 480.53 L482.83 480.05 L483.48 479.61 L484.13 479.22 L484.77 478.87 L485.42 478.57 L486.07 478.31 L486.72 478.1 L487.37 477.94 L488.02 477.83 L488.67 477.76 L489.32 477.74 L489.97 477.77 L490.62 477.85 L491.27 477.97 L491.92 478.13 L492.57 478.34 L493.22 478.59 L493.86 478.88 L494.51 479.2 L495.16 479.56 L495.81 479.95 L496.46 480.37 L497.11 480.83 L497.76 481.3 L498.41 481.8 L499.06 482.32 L499.71 482.86 L500.36 483.41 L501.01 483.97 L501.66 484.54 L502.31 485.12 L502.95 485.69 L503.6 486.27 L504.25 486.85 L504.9 487.42 L505.55 487.98 L506.2 488.53 L506.85 489.07 L507.5 489.59" fill="none" stroke="#4bb76a" stroke-width="3.2" stroke-linejoin="round" stroke-linecap="butt"/>
<path d="M183.5 484.9 L184.15 483.96 L184.8 483.01 L185.45 482.05 L186.1 481.09 L186.75 480.11 L187.4 479.12 L188.05 478.12 L188.69 477.12 L189.34 476.11 L189.99 475.08 L190.64 474.06 L191.29 473.02 L191.94 471.98 L192.59 470.94 L193.24 469.89 L193.89 468.83 L194.54 467.78 L195.19 466.72 L195.84 465.66 L196.49 464.6 L197.14 463.54 L197.78 462.49 L198.43 461.43 L199.08 460.38 L199.73 459.34 L200.38 458.29 L201.03 457.26 L201.68 456.23 L202.33 455.21 L202.98 454.19 L203.63 453.19 L204.28 452.19 L204.93 451.2 L205.58 450.23 L206.23 449.27 L206.87 448.31 L207.52 447.37 L208.17 446.45 L208.82 445.53 L209.47 444.63 L210.12 443.75 L210.77 442.88 L211.42 442.02 L212.07 441.17 L212.72 440.35 L213.37 439.53 L214.02 438.73 L214.67 437.94 L215.32 437.17 L215.96 436.41 L216.61 435.67 L217.26 434.94 L217.91 434.22 L218.56 433.51 L219.21 432.82 L219.86 432.14 L220.51 431.47 L221.16 430.81 L221.81 430.16 L222.46 429.52 L223.11 428.88 L223.76 428.26 L224.41 427.64 L225.06 427.03 L225.7 426.43 L226.35 425.83 L227 425.24 L227.65 424.65 L228.3 424.07 L228.95 423.48 L229.6 422.9 L230.25 422.33 L230.9 421.75 L231.55 421.17 L232.2 420.59 L232.85 420.01 L233.5 419.43 L234.15 418.85 L234.79 418.27 L235.44 417.68 L236.09 417.1 L236.74 416.5 L237.39 415.91 L238.04 415.31 L238.69 414.71 L239.34 414.1 L239.99 413.49 L240.64 412.87 L241.29 412.25 L241.94 411.63 L242.59 411 L243.24 410.37 L243.88 409.73 L244.53 409.1 L245.18 408.45 L245.83 407.81 L246.48 407.16 L247.13 406.51 L247.78 405.86 L248.43 405.21 L249.08 404.55 L249.73 403.9 L250.38 403.24 L251.03 402.59 L251.68 401.94 L252.33 401.29 L252.97 400.64 L253.62 399.99 L254.27 399.35 L254.92 398.71 L255.57 398.07 L256.22 397.44 L256.87 396.82 L257.52 396.2 L258.17 395.59 L258.82 394.99 L259.47 394.39 L260.12 393.81 L260.77 393.23 L261.42 392.66 L262.07 392.1 L262.71 391.55 L263.36 391.01 L264.01 390.48 L264.66 389.96 L265.31 389.45 L265.96 388.96 L266.61 388.47 L267.26 388 L267.91 387.54 L268.56 387.09 L269.21 386.65 L269.86 386.22 L270.51 385.81 L271.16 385.41 L271.8 385.02 L272.45 384.64 L273.1 384.27 L273.75 383.91 L274.4 383.56 L275.05 383.23 L275.7 382.9 L276.35 382.59 L277 382.28 L277.65 381.98 L278.3 381.69 L278.95 381.41 L279.6 381.14 L280.25 380.87 L280.89 380.61 L281.54 380.35 L282.19 380.11 L282.84 379.86 L283.49 379.63 L284.14 379.39 L284.79 379.16 L285.44 378.93 L286.09 378.71 L286.74 378.49 L287.39 378.27 L288.04 378.05 L288.69 377.83 L289.34 377.61 L289.98 377.4 L290.63 377.18 L291.28 376.96 L291.93 376.74 L292.58 376.52 L293.23 376.3 L293.88 376.08 L294.53 375.85 L295.18 375.62 L295.83 375.39 L296.48 375.16 L297.13 374.93 L297.78 374.69 L298.43 374.45 L299.08 374.2 L299.72 373.96 L300.37 373.71 L301.02 373.45 L301.67 373.2 L302.32 372.94 L302.97 372.68 L303.62 372.42 L304.27 372.16 L304.92 371.89 L305.57 371.63 L306.22 371.36 L306.87 371.09 L307.52 370.82 L308.17 370.55 L308.81 370.28 L309.46 370.01 L310.11 369.73 L310.76 369.47 L311.41 369.2 L312.06 368.93 L312.71 368.66 L313.36 368.4 L314.01 368.14 L314.66 367.88 L315.31 367.63 L315.96 367.38 L316.61 367.13 L317.26 366.88 L317.9 366.64 L318.55 366.41 L319.2 366.18 L319.85 365.95 L320.5 365.73 L321.15 365.52 L321.8 365.31 L322.45 365.1 L323.1 364.91 L323.75 364.72 L324.4 364.53 L325.05 364.35 L325.7 364.18 L326.35 364.01 L326.99 363.85 L327.64 363.7 L328.29 363.55 L328.94 363.41 L329.59 363.27 L330.24 363.14 L330.89 363.02 L331.54 362.9 L332.19 362.79 L332.84 362.68 L333.49 362.58 L334.14 362.48 L334.79 362.39 L335.44 362.3 L336.09 362.22 L336.73 362.14 L337.38 362.07 L338.03 362 L338.68 361.93 L339.33 361.86 L339.98 361.8 L340.63 361.74 L341.28 361.68 L341.93 361.63 L342.58 361.58 L343.23 361.52 L343.88 361.47 L344.53 361.42 L345.18 361.37 L345.82 361.32 L346.47 361.27 L347.12 361.22 L347.77 361.17 L348.42 361.12 L349.07 361.07 L349.72 361.01 L350.37 360.96 L351.02 360.9 L351.67 360.84 L352.32 360.79 L352.97 360.72 L353.62 360.66 L354.27 360.6 L354.91 360.53 L355.56 360.46 L356.21 360.39 L356.86 360.31 L357.51 360.24 L358.16 360.16 L358.81 360.08 L359.46 360 L360.11 359.91 L360.76 359.83 L361.41 359.74 L362.06 359.65 L362.71 359.56 L363.36 359.46 L364.01 359.37 L364.65 359.27 L365.3 359.17 L365.95 359.08 L366.6 358.98 L367.25 358.88 L367.9 358.78 L368.55 358.68 L369.2 358.58 L369.85 358.48 L370.5 358.38 L371.15 358.28 L371.8 358.18 L372.45 358.08 L373.1 357.98 L373.74 357.89 L374.39 357.79 L375.04 357.7 L375.69 357.61 L376.34 357.52 L376.99 357.43 L377.64 357.35 L378.29 357.26 L378.94 357.18 L379.59 357.11 L380.24 357.03 L380.89 356.96 L381.54 356.89 L382.19 356.82 L382.83 356.76 L383.48 356.7 L384.13 356.64 L384.78 356.59 L385.43 356.54 L386.08 356.49 L386.73 356.44 L387.38 356.4 L388.03 356.36 L388.68 356.32 L389.33 356.29 L389.98 356.26 L390.63 356.23 L391.28 356.2 L391.92 356.18 L392.57 356.16 L393.22 356.14 L393.87 356.12 L394.52 356.11 L395.17 356.1 L395.82 356.09 L396.47 356.08 L397.12 356.07 L397.77 356.06 L398.42 356.06 L399.07 356.05 L399.72 356.05 L400.37 356.04 L401.02 356.04 L401.66 356.04 L402.31 356.04 L402.96 356.04 L403.61 356.03 L404.26 356.03 L404.91 356.03 L405.56 356.03 L406.21 356.02 L406.86 356.02 L407.51 356.01 L408.16 356.01 L408.81 356 L409.46 355.99 L410.11 355.98 L410.75 355.97 L411.4 355.96 L412.05 355.95 L412.7 355.93 L413.35 355.92 L414 355.9 L414.65 355.88 L415.3 355.86 L415.95 355.84 L416.6 355.82 L417.25 355.79 L417.9 355.77 L418.55 355.74 L419.2 355.71 L419.84 355.68 L420.49 355.65 L421.14 355.62 L421.79 355.58 L422.44 355.55 L423.09 355.51 L423.74 355.48 L424.39 355.44 L425.04 355.4 L425.69 355.37 L426.34 355.33 L426.99 355.29 L427.64 355.25 L428.29 355.21 L428.93 355.17 L429.58 355.13 L430.23 355.1 L430.88 355.06 L431.53 355.02 L432.18 354.98 L432.83 354.95 L433.48 354.91 L434.13 354.87 L434.78 354.84 L435.43 354.81 L436.08 354.77 L436.73 354.74 L437.38 354.71 L438.03 354.68 L438.67 354.65 L439.32 354.63 L439.97 354.6 L440.62 354.58 L441.27 354.55 L441.92 354.53 L442.57 354.51 L443.22 354.5 L443.87 354.48 L444.52 354.46 L445.17 354.45 L445.82 354.44 L446.47 354.43 L447.12 354.42 L447.76 354.41 L448.41 354.4 L449.06 354.4 L449.71 354.39 L450.36 354.39 L451.01 354.39 L451.66 354.39 L452.31 354.39 L452.96 354.39 L453.61 354.39 L454.26 354.4 L454.91 354.4 L455.56 354.4 L456.21 354.41 L456.85 354.41 L457.5 354.42 L458.15 354.43 L458.8 354.43 L459.45 354.44 L460.1 354.45 L460.75 354.45 L461.4 354.46 L462.05 354.47 L462.7 354.47 L463.35 354.48 L464 354.48 L464.65 354.49 L465.3 354.49 L465.94 354.5 L466.59 354.5 L467.24 354.5 L467.89 354.51 L468.54 354.51 L469.19 354.51 L469.84 354.51 L470.49 354.51 L471.14 354.51 L471.79 354.5 L472.44 354.5 L473.09 354.5 L473.74 354.49 L474.39 354.49 L475.04 354.48 L475.68 354.47 L476.33 354.46 L476.98 354.45 L477.63 354.44 L478.28 354.43 L478.93 354.42 L479.58 354.41 L480.23 354.4 L480.88 354.38 L481.53 354.37 L482.18 354.36 L482.83 354.34 L483.48 354.33 L484.13 354.31 L484.77 354.29 L485.42 354.28 L486.07 354.26 L486.72 354.25 L487.37 354.23 L488.02 354.21 L488.67 354.2 L489.32 354.18 L489.97 354.16 L490.62 354.15 L491.27 354.13 L491.92 354.12 L492.57 354.1 L493.22 354.09 L493.86 354.07 L494.51 354.06 L495.16 354.05 L495.81 354.03 L496.46 354.02 L497.11 354.01 L497.76 354 L498.41 353.99 L499.06 353.98 L499.71 353.97 L500.36 353.96 L501.01 353.96 L501.66 353.95 L502.31 353.94 L502.95 353.94 L503.6 353.93 L504.25 353.93 L504.9 353.93 L505.55 353.93 L506.2 353.93 L506.85 353.92 L507.5 353.92" fill="none" stroke="#2c4a9f" stroke-width="3.5" stroke-linejoin="round" stroke-linecap="butt"/>
<g font-size="11.6" font-weight="bold" fill="#1c1c1c" stroke="#1c1c1c" stroke-width="0.2">
<text transform="translate(179.5 357.9) scale(1.02 1)" text-anchor="end">1</text>
<text transform="translate(179.5 384.6) scale(1.02 1)" text-anchor="end">0.8</text>
<text transform="translate(179.5 411.3) scale(1.02 1)" text-anchor="end">0.6</text>
<text transform="translate(179.5 438) scale(1.02 1)" text-anchor="end">0.4</text>
<text transform="translate(179.5 464.7) scale(1.02 1)" text-anchor="end">0.2</text>
<text transform="translate(179.5 491.4) scale(1.02 1)" text-anchor="end">0</text>
<text transform="translate(179.5 518.1) scale(1.02 1)" text-anchor="end">-0.2</text>
<text transform="translate(179.5 544.8) scale(1.02 1)" text-anchor="end">-0.4</text>
<text transform="translate(179.5 571.5) scale(1.02 1)" text-anchor="end">-0.6</text>
<text transform="translate(179.5 598.2) scale(1.02 1)" text-anchor="end">-0.8</text>
<text transform="translate(179.5 624.9) scale(1.02 1)" text-anchor="end">-1</text>
<text transform="translate(183.5 635.6) scale(1.02 1)" text-anchor="middle">0</text>
<text transform="translate(264.5 635.6) scale(1.02 1)" text-anchor="middle">0.5</text>
<text transform="translate(345.5 635.6) scale(1.02 1)" text-anchor="middle">1</text>
<text transform="translate(426.5 635.6) scale(1.02 1)" text-anchor="middle">1.5</text>
<text transform="translate(507.5 635.6) scale(1.02 1)" text-anchor="middle">2</text>
</g>
<text x="475.57" y="655.33" font-size="14.77" fill="#1c1c1c">×</text>
<text x="485.8" y="653.1" font-size="10.4" textLength="11.02" lengthAdjust="spacingAndGlyphs" font-weight="bold" fill="#1c1c1c">10</text>
<text x="498" y="648.2" font-size="9" textLength="8.49" lengthAdjust="spacingAndGlyphs" font-weight="bold" fill="#1c1c1c">-9</text>
<text x="314.4" y="651.3" font-size="12.3" textLength="61.17" lengthAdjust="spacingAndGlyphs" font-weight="bold" fill="#1c1c1c">Time (in s)</text>
<text transform="translate(154.1 569.6) rotate(-90)" x="0" y="0" font-size="12.5" textLength="165.39" lengthAdjust="spacingAndGlyphs" font-weight="bold" fill="#1c1c1c">Magnetization components</text>
<text x="244.55" y="344.4" font-size="17.2" textLength="169" lengthAdjust="spacingAndGlyphs" font-weight="bold" fill="#111" stroke="#111" stroke-width="0.35" stroke-linejoin="round">damping factor= 0.1</text>
<text x="136.25" y="355.2" font-size="20" textLength="23.74" lengthAdjust="spacingAndGlyphs" font-weight="bold" fill="#111" stroke="#111" stroke-width="0.35" stroke-linejoin="round">(c)</text>
<rect x="417.8" y="359.4" width="84" height="56" fill="#fff" stroke="#b4b4b4" stroke-width="0.8"/>
<path d="M420.1 369.2H437.8" stroke="#e72e26" stroke-width="2.9" fill="none"/>
<text transform="translate(439.1 371) scale(1.0014 1)" font-size="10.4" font-weight="bold" fill="#1c1c1c" stroke="#1c1c1c" stroke-width="0.15">along x (M<tspan font-size="8.11" dy="4.99">x</tspan><tspan dy="-4.99">)</tspan></text>
<path d="M420.1 387.2H437.8" stroke="#4bb76a" stroke-width="2.9" fill="none"/>
<text transform="translate(439.1 389) scale(1.0014 1)" font-size="10.4" font-weight="bold" fill="#1c1c1c" stroke="#1c1c1c" stroke-width="0.15">along y (M<tspan font-size="8.11" dy="4.99">y</tspan><tspan dy="-4.99">)</tspan></text>
<path d="M420.1 405.3H437.8" stroke="#2c4a9f" stroke-width="3.3" fill="none"/>
<text transform="translate(439.1 407.1) scale(1.0192 1)" font-size="10.4" font-weight="bold" fill="#1c1c1c" stroke="#1c1c1c" stroke-width="0.15">along z (M<tspan font-size="8.11" dy="4.99">z</tspan><tspan dy="-4.99">)</tspan></text>
</g>
</svg>
</body>
</html>
